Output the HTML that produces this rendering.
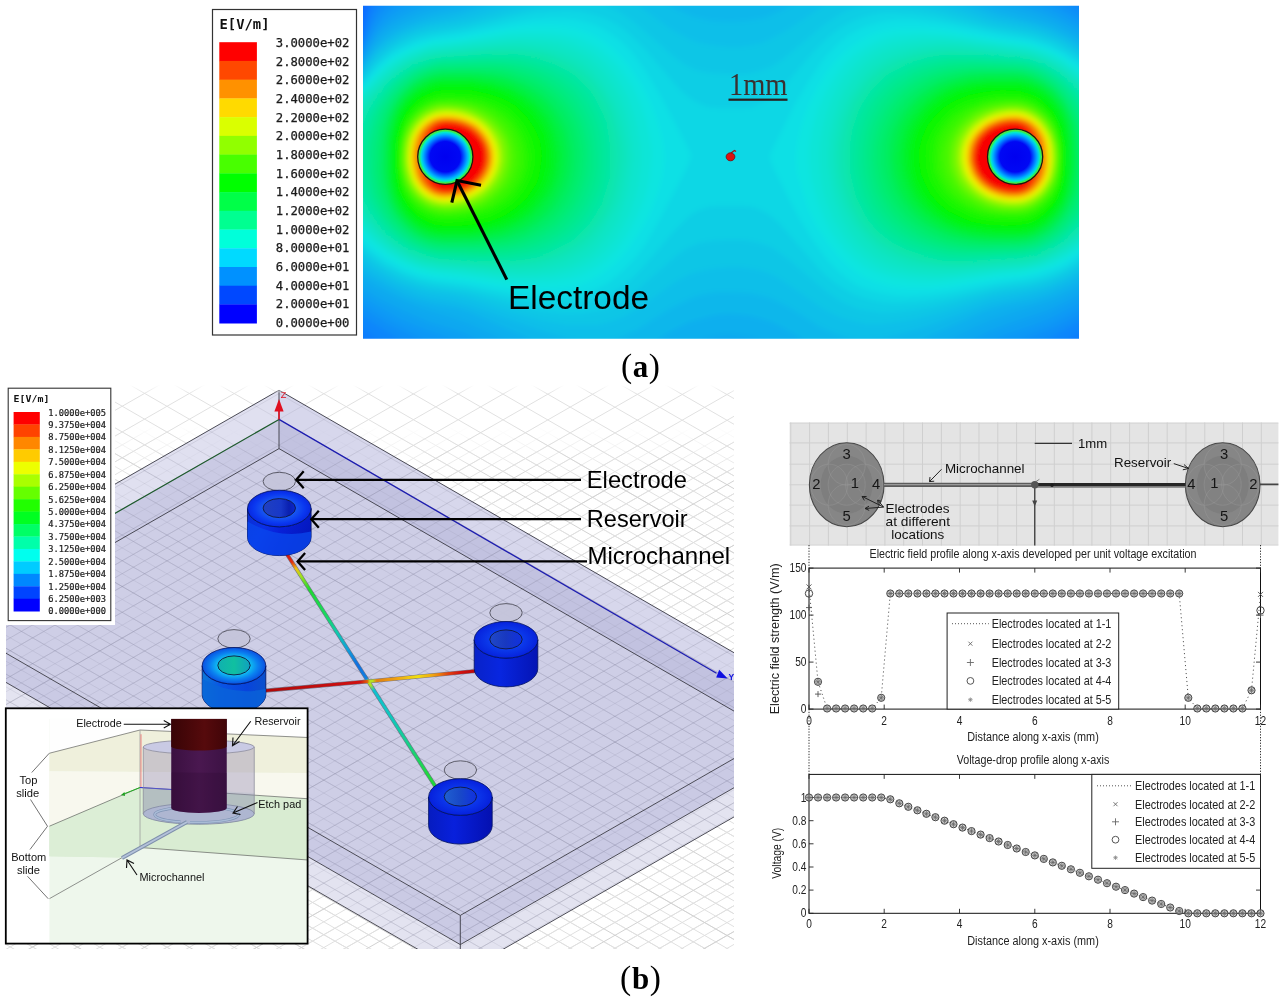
<!DOCTYPE html>
<html><head><meta charset="utf-8"><title>Figure</title>
<style>html,body{margin:0;padding:0;background:#fff}svg{display:block}</style></head>
<body>
<svg width="1285" height="1000" viewBox="0 0 1285 1000">
<defs>
<clipPath id="hclip"><rect x="363" y="5.8" width="716" height="333"/></clipPath>
<filter id="hblur" x="-5%" y="-5%" width="110%" height="110%"><feGaussianBlur stdDeviation="2.5"/></filter>
<radialGradient id="elec" cx="0.5" cy="0.5" r="0.5">
<stop offset="0" stop-color="#0000f0"/><stop offset="0.55" stop-color="#0008f4"/><stop offset="0.66" stop-color="#0050ff"/><stop offset="0.80" stop-color="#00b0ff"/><stop offset="0.88" stop-color="#00e8d0"/><stop offset="0.94" stop-color="#30f050"/><stop offset="1" stop-color="#90e020"/>
</radialGradient>

<linearGradient id="elecIn" x1="0" x2="1"><stop offset="0" stop-color="#3a1040"/><stop offset="0.5" stop-color="#4a1850"/><stop offset="1" stop-color="#3c1244"/></linearGradient>
<linearGradient id="elecTop" x1="0" x2="1"><stop offset="0" stop-color="#380406"/><stop offset="0.6" stop-color="#560a0c"/><stop offset="1" stop-color="#400508"/></linearGradient>

<clipPath id="b3clip"><rect x="6" y="385" width="728" height="564"/></clipPath>
<linearGradient id="finefade" x1="0" y1="425" x2="0" y2="480" gradientUnits="userSpaceOnUse"><stop offset="0" stop-color="#000"/><stop offset="1" stop-color="#fff"/></linearGradient>
<linearGradient id="gfade" x1="0" y1="385" x2="0" y2="394" gradientUnits="userSpaceOnUse"><stop offset="0" stop-color="#fff" stop-opacity="1"/><stop offset="1" stop-color="#fff" stop-opacity="0"/></linearGradient>
<linearGradient id="cylg1" x1="0" x2="1" y1="0" y2="0.35"><stop offset="0" stop-color="#0a2fd0"/><stop offset="0.35" stop-color="#0a30e8"/><stop offset="0.6" stop-color="#0820d8"/><stop offset="1" stop-color="#0418c0"/></linearGradient>
<linearGradient id="cylg2" x1="0" x2="1" y1="0" y2="0"><stop offset="0" stop-color="#0a78d8"/><stop offset="0.3" stop-color="#0a54e4"/><stop offset="0.7" stop-color="#0844dc"/><stop offset="1" stop-color="#0a50cc"/></linearGradient>
<linearGradient id="cylg3" x1="0" x2="1" y1="0" y2="0"><stop offset="0" stop-color="#0822c8"/><stop offset="0.4" stop-color="#0826e0"/><stop offset="1" stop-color="#0414b4"/></linearGradient>
<linearGradient id="cylg4" x1="0" x2="1" y1="0" y2="0"><stop offset="0" stop-color="#061cc0"/><stop offset="0.4" stop-color="#0820dc"/><stop offset="1" stop-color="#0410b0"/></linearGradient>
<radialGradient id="cylt1"><stop offset="0.5" stop-color="#1858f0"/><stop offset="0.8" stop-color="#0a38f0"/><stop offset="1" stop-color="#0828e0"/></radialGradient>
<radialGradient id="cylt2"><stop offset="0.5" stop-color="#10c0f0"/><stop offset="0.75" stop-color="#0a80f0"/><stop offset="1" stop-color="#0a50e0"/></radialGradient>
<radialGradient id="cylt3"><stop offset="0.5" stop-color="#0c3cec"/><stop offset="1" stop-color="#0622dc"/></radialGradient>
<radialGradient id="cylt4"><stop offset="0.5" stop-color="#0c38ec"/><stop offset="1" stop-color="#0620dc"/></radialGradient>
<linearGradient id="cylh1" x1="0" x2="1"><stop offset="0" stop-color="#2040c0"/><stop offset="0.55" stop-color="#1838c8"/><stop offset="0.8" stop-color="#0a20b0"/><stop offset="1" stop-color="#0a28d0"/></linearGradient>
<linearGradient id="cylh2" x1="0" x2="1"><stop offset="0" stop-color="#10b0b0"/><stop offset="0.5" stop-color="#10c0a0"/><stop offset="1" stop-color="#10a0c0"/></linearGradient>
<linearGradient id="cylh3" x1="0" x2="1"><stop offset="0" stop-color="#2048c8"/><stop offset="0.5" stop-color="#1838c0"/><stop offset="1" stop-color="#1030e0"/></linearGradient>
<linearGradient id="cylh4" x1="0" x2="1"><stop offset="0" stop-color="#2060d0"/><stop offset="0.5" stop-color="#1848c8"/><stop offset="1" stop-color="#1030e0"/></linearGradient>
<linearGradient id="chL" gradientUnits="userSpaceOnUse" x1="286" y1="553" x2="452" y2="812">
<stop offset="0" stop-color="#d01010"/><stop offset="0.035" stop-color="#e03010"/><stop offset="0.06" stop-color="#f0c010"/><stop offset="0.09" stop-color="#a0e020"/><stop offset="0.14" stop-color="#20d830"/><stop offset="0.24" stop-color="#18d860"/><stop offset="0.31" stop-color="#10c8b0"/><stop offset="0.37" stop-color="#10a0d8"/><stop offset="0.43" stop-color="#1070e0"/><stop offset="0.485" stop-color="#1080e0"/><stop offset="0.495" stop-color="#b0e020"/><stop offset="0.51" stop-color="#b0e020"/><stop offset="0.53" stop-color="#10c0d0"/><stop offset="0.65" stop-color="#10c8b8"/><stop offset="0.75" stop-color="#18d080"/><stop offset="0.85" stop-color="#20d840"/><stop offset="1" stop-color="#20d030"/></linearGradient>
<linearGradient id="chS" gradientUnits="userSpaceOnUse" x1="265" y1="0" x2="476" y2="0">
<stop offset="0" stop-color="#b00808"/><stop offset="0.45" stop-color="#d01010"/><stop offset="0.485" stop-color="#e06010"/><stop offset="0.497" stop-color="#b8e020"/><stop offset="0.51" stop-color="#b8e020"/><stop offset="0.53" stop-color="#e08010"/><stop offset="0.62" stop-color="#f0a010"/><stop offset="0.72" stop-color="#f0e010"/><stop offset="0.80" stop-color="#f0a010"/><stop offset="0.87" stop-color="#e04010"/><stop offset="0.93" stop-color="#d01010"/><stop offset="1" stop-color="#b80808"/></linearGradient>


<clipPath id="schclip"><rect x="789.6" y="422.5" width="488.8" height="123"/></clipPath>
<g id="mk"><circle r="3.6" fill="#b0b0b0" fill-opacity="0.55" stroke="#454545" stroke-width="1"/><path d="M-2.3 -2.3L2.3 2.3M-2.3 2.3L2.3 -2.3M-3 0H3M0 -3V3" stroke="#6a6a6a" stroke-width="0.8"/></g>

</defs>
<rect width="1285" height="1000" fill="#fff"/>
<rect x="212.5" y="9.5" width="144" height="325.5" fill="#fff" stroke="#333" stroke-width="1.2"/>
<text x="219.5" y="29" font-family="DejaVu Sans Mono, Liberation Mono, monospace" font-weight="bold" font-size="13.2" textLength="50" lengthAdjust="spacingAndGlyphs" fill="#111">E[V/m]</text>
<rect x="219.3" y="42.20" width="37.6" height="19.03" fill="#ff0000"/>
<rect x="219.3" y="60.93" width="37.6" height="19.03" fill="#ff4800"/>
<rect x="219.3" y="79.67" width="37.6" height="19.03" fill="#ff9100"/>
<rect x="219.3" y="98.40" width="37.6" height="19.03" fill="#ffda00"/>
<rect x="219.3" y="117.13" width="37.6" height="19.03" fill="#daff00"/>
<rect x="219.3" y="135.87" width="37.6" height="19.03" fill="#91ff00"/>
<rect x="219.3" y="154.60" width="37.6" height="19.03" fill="#48ff00"/>
<rect x="219.3" y="173.33" width="37.6" height="19.03" fill="#00ff00"/>
<rect x="219.3" y="192.07" width="37.6" height="19.03" fill="#00ff48"/>
<rect x="219.3" y="210.80" width="37.6" height="19.03" fill="#00ff91"/>
<rect x="219.3" y="229.53" width="37.6" height="19.03" fill="#00ffda"/>
<rect x="219.3" y="248.27" width="37.6" height="19.03" fill="#00daff"/>
<rect x="219.3" y="267.00" width="37.6" height="19.03" fill="#0091ff"/>
<rect x="219.3" y="285.73" width="37.6" height="19.03" fill="#0048ff"/>
<rect x="219.3" y="304.47" width="37.6" height="19.03" fill="#0000ff"/>
<text x="275.8" y="47.0" font-family="DejaVu Sans Mono, Liberation Mono, monospace" font-size="11.7" textLength="73.6" lengthAdjust="spacingAndGlyphs" fill="#1a1a1a" stroke="#1a1a1a" stroke-width="0.25">3.0000e+02</text>
<text x="275.8" y="65.7" font-family="DejaVu Sans Mono, Liberation Mono, monospace" font-size="11.7" textLength="73.6" lengthAdjust="spacingAndGlyphs" fill="#1a1a1a" stroke="#1a1a1a" stroke-width="0.25">2.8000e+02</text>
<text x="275.8" y="84.3" font-family="DejaVu Sans Mono, Liberation Mono, monospace" font-size="11.7" textLength="73.6" lengthAdjust="spacingAndGlyphs" fill="#1a1a1a" stroke="#1a1a1a" stroke-width="0.25">2.6000e+02</text>
<text x="275.8" y="103.0" font-family="DejaVu Sans Mono, Liberation Mono, monospace" font-size="11.7" textLength="73.6" lengthAdjust="spacingAndGlyphs" fill="#1a1a1a" stroke="#1a1a1a" stroke-width="0.25">2.4000e+02</text>
<text x="275.8" y="121.7" font-family="DejaVu Sans Mono, Liberation Mono, monospace" font-size="11.7" textLength="73.6" lengthAdjust="spacingAndGlyphs" fill="#1a1a1a" stroke="#1a1a1a" stroke-width="0.25">2.2000e+02</text>
<text x="275.8" y="140.3" font-family="DejaVu Sans Mono, Liberation Mono, monospace" font-size="11.7" textLength="73.6" lengthAdjust="spacingAndGlyphs" fill="#1a1a1a" stroke="#1a1a1a" stroke-width="0.25">2.0000e+02</text>
<text x="275.8" y="159.0" font-family="DejaVu Sans Mono, Liberation Mono, monospace" font-size="11.7" textLength="73.6" lengthAdjust="spacingAndGlyphs" fill="#1a1a1a" stroke="#1a1a1a" stroke-width="0.25">1.8000e+02</text>
<text x="275.8" y="177.7" font-family="DejaVu Sans Mono, Liberation Mono, monospace" font-size="11.7" textLength="73.6" lengthAdjust="spacingAndGlyphs" fill="#1a1a1a" stroke="#1a1a1a" stroke-width="0.25">1.6000e+02</text>
<text x="275.8" y="196.4" font-family="DejaVu Sans Mono, Liberation Mono, monospace" font-size="11.7" textLength="73.6" lengthAdjust="spacingAndGlyphs" fill="#1a1a1a" stroke="#1a1a1a" stroke-width="0.25">1.4000e+02</text>
<text x="275.8" y="215.0" font-family="DejaVu Sans Mono, Liberation Mono, monospace" font-size="11.7" textLength="73.6" lengthAdjust="spacingAndGlyphs" fill="#1a1a1a" stroke="#1a1a1a" stroke-width="0.25">1.2000e+02</text>
<text x="275.8" y="233.7" font-family="DejaVu Sans Mono, Liberation Mono, monospace" font-size="11.7" textLength="73.6" lengthAdjust="spacingAndGlyphs" fill="#1a1a1a" stroke="#1a1a1a" stroke-width="0.25">1.0000e+02</text>
<text x="275.8" y="252.4" font-family="DejaVu Sans Mono, Liberation Mono, monospace" font-size="11.7" textLength="73.6" lengthAdjust="spacingAndGlyphs" fill="#1a1a1a" stroke="#1a1a1a" stroke-width="0.25">8.0000e+01</text>
<text x="275.8" y="271.0" font-family="DejaVu Sans Mono, Liberation Mono, monospace" font-size="11.7" textLength="73.6" lengthAdjust="spacingAndGlyphs" fill="#1a1a1a" stroke="#1a1a1a" stroke-width="0.25">6.0000e+01</text>
<text x="275.8" y="289.7" font-family="DejaVu Sans Mono, Liberation Mono, monospace" font-size="11.7" textLength="73.6" lengthAdjust="spacingAndGlyphs" fill="#1a1a1a" stroke="#1a1a1a" stroke-width="0.25">4.0000e+01</text>
<text x="275.8" y="308.4" font-family="DejaVu Sans Mono, Liberation Mono, monospace" font-size="11.7" textLength="73.6" lengthAdjust="spacingAndGlyphs" fill="#1a1a1a" stroke="#1a1a1a" stroke-width="0.25">2.0000e+01</text>
<text x="275.8" y="327.1" font-family="DejaVu Sans Mono, Liberation Mono, monospace" font-size="11.7" textLength="73.6" lengthAdjust="spacingAndGlyphs" fill="#1a1a1a" stroke="#1a1a1a" stroke-width="0.25">0.0000e+00</text>
<g clip-path="url(#hclip)"><g filter="url(#hblur)">
<rect x="351" y="-6" width="740" height="357" fill="#086bff"/>
<path fill="#0875ff" d="M1086,348 359,348 354,344 354,61 361,36 366,9 370,-3 1089,-3 1089,347 1088,348 1086,348Z"/>
<path fill="#087efd" d="M1071,348 375,348 354,333 354,64 363,36 368,12 372,2 375,-3 1087,-3 1089,-1 1089,337 1071,348Z"/>
<path fill="#0886fb" d="M1053,348 392,348 354,323 354,67 365,36 369,20 373,9 381,-3 1074,-3 1089,7 1089,326 1053,348Z"/>
<path fill="#088ff8" d="M1029,348 413,348 354,311 354,70 372,21 375,15 381,6 391,-3 1060,-3 1089,15 1089,316 1032,348 1029,348Z"/>
<path fill="#0898f6" d="M1002,348 438,348 432,345 387,322 354,301 354,72 372,30 378,20 384,12 393,4 404,-3 1044,-3 1065,9 1089,23 1089,307 1068,319 1050,328 1023,339 1005,348 1002,348Z"/>
<path fill="#08a0f3" d="M978,348 469,348 452,339 426,330 399,319 375,305 354,292 354,75 369,43 378,28 387,18 402,7 421,-3 1024,-3 1059,13 1077,23 1089,31 1089,299 1071,308 1050,319 1032,326 1002,336 990,342 980,348 978,348Z"/>
<path fill="#08a8f0" d="M957,348 493,348 477,339 462,332 429,322 408,313 381,300 354,283 354,77 372,43 378,34 385,27 393,21 405,14 429,3 445,-3 999,-3 1023,6 1038,11 1053,17 1071,26 1089,37 1089,290 1068,301 1047,311 1029,317 1005,325 992,330 975,338 958,348 957,348Z"/>
<path fill="#08afee" d="M930,348 778,348 765,342 753,338 741,336 729,335 717,336 708,338 696,342 683,348 518,348 496,336 470,324 456,319 423,309 396,298 375,287 354,274 354,79 372,48 381,37 390,29 402,22 417,15 432,10 450,5 471,-3 978,-3 991,3 999,6 1032,15 1056,24 1074,34 1089,43 1089,282 1073,291 1056,299 1041,304 1008,314 993,319 972,328 932,348 930,348Z"/>
<path fill="#08b7eb" d="M900,348 818,348 783,328 771,322 762,319 750,316 741,315 729,314 717,315 708,317 690,322 675,329 644,348 550,348 531,340 486,320 468,312 458,309 435,305 420,301 405,296 393,290 373,279 354,266 354,82 369,57 375,49 384,40 396,31 408,25 423,19 435,15 462,9 477,4 492,-3 706,-3 717,-1 729,0 741,-1 754,-3 960,-3 981,6 996,12 1038,23 1053,28 1065,34 1077,41 1089,49 1089,276 1071,286 1053,294 1032,301 1004,306 984,312 924,339 906,346 900,348Z"/>
<path fill="#08bfe9" d="M867,339 858,339 849,338 834,333 819,326 789,307 777,301 768,297 750,293 729,292 717,292 705,294 696,296 687,300 669,309 636,330 627,334 618,338 609,340 600,341 582,341 567,338 543,331 483,310 468,305 456,302 432,298 420,295 405,289 393,284 372,272 354,258 354,84 369,61 378,50 387,42 399,34 408,30 420,25 432,22 451,18 465,14 512,-3 656,-3 675,9 693,17 702,19 711,21 729,22 747,21 765,18 783,10 806,-3 940,-3 996,18 1029,24 1047,30 1068,40 1089,54 1089,269 1068,281 1047,290 1029,295 1005,300 990,303 924,327 900,334 882,338 867,339Z"/>
<path fill="#08c6e6" d="M879,324 867,324 858,322 849,320 840,317 831,313 822,308 792,287 777,277 768,273 759,270 741,267 729,267 717,268 705,270 693,273 684,277 675,282 642,306 627,315 618,319 609,322 597,325 588,325 567,325 540,320 519,314 465,297 450,294 432,292 420,289 399,282 387,275 375,268 363,259 354,251 354,86 358,81 372,61 378,54 390,44 405,35 417,30 429,26 459,21 473,18 538,-3 623,-3 639,6 672,30 687,38 696,42 705,44 717,46 729,47 741,47 753,45 762,43 771,39 789,29 823,6 834,0 842,-3 911,-3 930,2 990,21 1005,24 1026,28 1041,32 1053,37 1065,42 1077,50 1089,58 1089,264 1077,272 1068,277 1053,284 1041,288 1029,290 1005,294 990,297 942,312 915,319 897,322 879,324Z"/>
<path fill="#08cee5" d="M897,312 882,313 870,311 858,309 846,304 837,299 828,293 789,260 774,249 768,246 759,243 744,240 726,240 711,241 699,243 690,247 684,250 675,257 636,291 624,300 615,305 606,309 597,311 585,313 576,314 564,314 540,311 522,307 468,293 426,287 405,280 391,273 378,265 366,256 354,244 354,88 358,84 375,62 384,53 399,42 414,35 429,31 468,24 534,7 555,3 573,1 585,1 597,3 609,7 618,11 633,21 672,55 684,64 696,70 711,73 729,74 747,74 759,71 768,68 774,65 783,59 825,24 837,16 846,11 858,7 867,5 879,3 897,4 918,7 948,14 996,27 1032,33 1047,38 1059,43 1071,50 1083,58 1089,63 1089,259 1077,267 1065,274 1053,279 1038,284 1026,287 996,291 933,307 915,310 897,312Z"/>
<path fill="#08d7e5" d="M576,303 555,304 531,302 510,298 465,288 435,284 420,281 402,274 384,265 367,252 354,239 354,91 361,84 375,66 387,55 396,48 408,42 420,37 432,34 465,29 510,18 534,13 561,11 573,11 582,12 594,15 606,19 616,24 627,32 644,48 672,81 681,91 690,98 696,102 705,106 714,108 747,108 753,107 762,103 768,100 774,96 786,84 809,57 820,45 831,35 842,27 853,21 867,16 882,13 897,13 915,14 936,17 993,30 1023,35 1035,38 1050,43 1062,49 1077,58 1089,67 1089,254 1074,265 1059,273 1047,278 1032,282 996,287 951,297 933,300 918,302 903,303 888,303 876,301 864,298 853,294 843,288 834,282 823,273 815,264 780,224 771,216 765,212 756,208 747,206 714,206 708,207 699,210 693,213 687,218 675,230 643,267 631,279 621,287 612,292 600,298 588,301 576,303Z"/>
<path fill="#08e0e5" d="M579,294 558,296 546,297 531,296 507,292 465,284 438,281 423,278 405,272 396,267 385,261 369,249 355,234 354,233 354,93 361,87 375,70 384,61 393,54 402,49 417,42 429,39 438,37 465,33 519,22 534,20 549,19 564,19 576,20 588,23 597,26 606,31 615,37 625,45 633,54 646,72 662,99 689,150 691,156 690,159 688,165 682,177 658,222 646,243 635,258 621,272 609,282 594,290 579,294ZM933,294 906,296 894,295 882,293 870,290 861,287 852,282 843,275 834,267 826,258 811,237 800,219 787,195 775,171 770,159 770,156 772,150 793,108 809,81 823,60 837,45 849,35 864,27 879,23 888,21 900,20 912,20 927,22 951,25 999,35 1029,40 1041,44 1050,47 1062,53 1077,62 1089,72 1089,249 1077,258 1065,266 1053,271 1038,276 1023,279 996,283 954,291 933,294Z"/>
<path fill="#08e5e0" d="M561,288 540,289 516,288 462,279 435,276 420,273 402,266 384,256 368,243 355,228 354,227 354,95 363,88 380,69 390,60 399,54 411,48 420,45 432,41 459,38 513,28 534,26 552,26 564,27 576,29 585,32 595,36 603,41 612,48 621,57 631,69 641,84 650,102 657,120 662,138 664,153 664,162 662,177 658,192 650,213 640,231 628,249 615,263 603,273 591,280 576,286 561,288ZM930,288 909,288 891,286 876,282 864,277 858,273 849,266 838,255 828,243 818,228 809,210 803,192 797,171 796,156 798,141 802,123 809,105 818,87 825,75 834,63 843,54 852,46 863,39 873,34 882,31 894,29 906,28 921,28 939,29 954,31 997,39 1020,42 1032,44 1047,49 1062,56 1077,66 1089,76 1089,245 1077,254 1062,263 1050,268 1038,272 1023,276 999,278 951,286 930,288Z"/>
<path fill="#08e5d7" d="M552,282 531,283 510,282 468,276 432,272 417,268 402,262 387,253 371,240 357,224 354,220 354,101 357,96 364,90 378,74 384,68 393,61 402,56 411,51 420,48 432,44 462,41 510,33 528,32 543,32 555,33 567,35 579,38 588,42 597,47 606,54 615,62 623,72 633,87 640,102 646,120 650,138 652,153 651,165 649,183 644,201 636,219 628,234 620,246 609,258 597,267 582,275 569,279 552,282ZM942,282 924,283 906,281 891,278 876,273 864,267 852,258 841,246 832,234 824,219 817,201 811,180 809,162 809,147 812,129 817,111 825,93 832,81 838,72 846,62 855,54 864,48 875,42 885,38 897,35 909,34 921,33 936,34 951,35 999,42 1026,45 1041,49 1053,54 1062,59 1072,66 1080,72 1089,81 1089,240 1077,250 1065,258 1053,264 1038,269 1023,272 1002,274 960,280 942,282Z"/>
<path fill="#08e5ce" d="M552,276 531,278 510,278 462,272 438,270 423,267 406,261 390,252 375,240 362,225 354,213 354,107 361,96 381,75 391,66 400,60 411,54 420,51 432,47 504,38 519,37 534,37 546,38 558,39 570,42 579,46 590,51 598,57 606,64 613,72 621,84 629,99 635,117 639,135 641,150 641,165 639,183 635,198 630,213 622,228 615,240 604,252 593,261 582,267 570,272 552,276ZM960,276 936,278 912,276 891,272 882,269 873,264 864,258 857,252 851,246 844,237 833,219 825,198 822,186 820,174 819,162 819,153 820,141 823,126 826,114 830,102 836,90 841,81 848,72 856,63 864,56 872,51 882,46 891,43 913,39 924,38 939,38 963,40 1029,49 1047,55 1062,62 1075,72 1089,85 1089,236 1080,244 1068,253 1056,259 1041,265 1023,269 999,271 960,276Z"/>
<path fill="#08e5c5" d="M537,273 519,274 498,273 462,269 438,267 420,264 411,260 402,256 387,246 373,234 361,219 354,206 354,115 359,105 365,96 384,76 399,64 408,59 417,55 426,51 438,49 504,42 519,41 534,42 546,43 558,45 570,49 579,53 588,58 597,66 603,72 610,81 619,96 625,111 629,126 632,144 633,159 631,174 628,192 623,207 617,222 609,234 600,245 591,254 580,261 567,267 552,271 537,273ZM954,273 936,273 918,272 903,269 888,264 876,258 867,251 858,243 849,231 841,216 835,201 832,189 828,168 828,153 829,138 833,120 839,102 845,90 851,81 858,72 867,63 876,57 885,52 894,49 906,46 918,44 930,43 945,42 960,43 1023,50 1035,53 1047,58 1059,64 1071,72 1081,81 1089,90 1089,231 1080,240 1068,249 1056,256 1041,263 1023,267 954,273Z"/>
<path fill="#08e5bc" d="M540,268 522,270 501,270 441,265 426,262 417,260 408,256 393,247 381,237 368,222 360,210 354,197 354,124 361,108 369,96 384,80 396,69 405,63 414,59 423,55 435,52 495,46 513,45 528,46 543,48 555,51 567,55 576,59 585,65 591,70 598,78 605,87 612,99 619,114 623,129 626,144 627,159 625,174 622,189 619,201 613,213 604,228 597,238 588,247 579,253 567,260 555,264 540,268ZM984,267 954,269 930,268 909,265 891,258 885,255 876,249 866,240 854,225 844,207 841,198 837,186 835,174 834,162 834,153 835,141 839,120 844,108 848,99 854,90 861,80 868,72 875,66 882,62 891,57 903,53 915,49 930,47 942,46 969,47 1026,54 1035,56 1044,59 1059,67 1074,78 1083,87 1089,94 1089,226 1079,237 1068,246 1056,253 1044,259 1035,262 1023,264 984,267Z"/>
<path fill="#07e5b2" d="M531,264 513,266 492,266 441,262 432,261 423,259 408,253 392,243 379,231 367,216 359,201 354,186 354,136 357,126 362,114 367,105 373,96 387,81 402,68 411,63 420,59 429,56 438,54 498,49 513,49 528,50 540,52 552,55 564,60 573,64 582,70 591,78 597,85 603,93 610,105 614,117 618,132 621,147 621,162 619,177 616,192 612,204 606,216 600,225 591,236 582,244 573,250 561,256 546,261 531,264ZM987,264 960,266 939,265 918,262 900,256 885,248 877,243 871,237 864,230 858,222 850,207 846,198 843,186 840,174 839,162 839,153 840,141 843,129 845,120 852,102 858,93 864,84 870,78 879,70 888,64 897,60 909,56 921,53 933,51 948,50 972,51 1026,56 1041,61 1050,65 1059,70 1068,77 1076,84 1089,100 1089,221 1081,231 1071,240 1059,248 1047,255 1038,258 1026,261 987,264Z"/>
<path fill="#07e6aa" d="M528,261 510,263 492,263 441,260 426,257 411,251 396,242 383,231 371,216 366,207 362,198 359,189 356,177 355,159 356,147 357,138 361,126 364,117 369,108 374,99 387,84 402,71 408,67 420,62 435,57 492,52 507,52 522,53 534,54 546,57 558,62 567,66 576,72 584,78 591,85 597,93 604,105 609,117 613,132 615,147 616,159 614,174 611,189 607,201 602,213 596,222 588,232 579,240 567,248 555,254 543,258 528,261ZM987,261 960,263 939,262 921,259 903,253 888,245 881,240 874,234 869,228 862,219 854,204 851,195 847,183 845,162 845,153 846,141 848,129 850,120 858,102 864,93 870,85 877,78 885,72 901,63 912,59 924,56 936,54 951,53 975,54 1020,58 1029,59 1038,62 1047,66 1062,75 1075,87 1083,96 1089,105 1089,216 1079,228 1070,237 1059,245 1047,252 1038,255 1026,258 987,261Z"/>
<path fill="#06e7a1" d="M525,258 507,260 486,260 438,257 423,253 408,247 396,239 384,228 373,213 368,204 364,195 362,186 359,174 359,156 360,144 362,135 364,126 369,114 374,105 380,96 393,81 401,75 408,70 423,63 432,60 441,59 495,55 510,55 525,57 537,59 546,62 557,66 567,71 576,77 582,83 589,90 595,99 601,111 606,123 608,135 610,150 610,162 609,177 605,192 601,204 594,216 588,225 579,234 572,240 561,246 549,252 537,256 525,258ZM990,258 963,260 942,259 924,255 906,249 891,241 878,231 868,219 860,204 856,195 853,183 851,174 850,162 850,153 851,141 853,129 856,120 859,111 864,102 870,93 875,87 881,81 888,75 897,70 905,66 915,62 927,59 939,57 954,56 978,56 1017,59 1029,61 1038,64 1047,68 1054,72 1062,78 1069,84 1077,93 1084,102 1089,112 1089,210 1085,216 1075,228 1068,235 1056,244 1044,250 1035,254 1023,256 990,258Z"/>
<path fill="#06e899" d="M522,255 507,257 486,257 441,255 426,252 411,246 397,237 385,225 377,213 370,201 368,195 363,177 362,159 365,138 368,126 371,117 376,108 381,99 385,93 393,84 400,78 408,72 423,65 432,62 441,60 492,58 507,58 522,59 534,62 543,65 554,69 564,75 573,81 579,87 585,93 591,102 597,114 601,126 604,138 605,150 605,162 604,177 601,189 596,201 590,213 584,222 576,230 568,237 555,245 546,249 534,253 522,255ZM1008,255 975,257 954,257 936,254 921,251 906,245 891,236 879,225 870,213 865,204 861,195 857,177 855,168 855,156 856,144 857,135 862,117 866,108 872,99 882,87 888,81 897,75 908,69 918,65 930,62 945,59 957,59 972,59 1023,62 1032,64 1041,67 1056,76 1063,81 1071,89 1076,96 1082,105 1089,118 1089,203 1087,207 1079,219 1072,228 1062,237 1053,244 1042,249 1032,252 1020,254 1008,255Z"/>
<path fill="#06e990" d="M519,252 501,255 483,255 441,253 426,250 414,245 401,237 388,225 380,213 375,204 371,195 367,177 366,165 366,156 367,144 369,135 374,117 378,108 384,99 390,91 396,84 403,78 411,73 418,69 426,66 441,62 492,60 507,61 522,63 534,66 543,69 552,73 561,78 569,84 576,90 582,98 587,105 593,117 597,129 599,141 600,153 600,165 599,177 596,189 591,201 586,210 580,219 573,227 564,234 555,240 543,246 531,250 519,252ZM1023,252 984,254 966,254 948,253 933,250 915,244 901,237 889,228 879,217 874,210 869,201 866,192 863,183 861,174 860,162 861,144 865,126 868,117 872,108 876,101 882,94 894,82 906,75 915,70 928,66 942,63 954,61 969,61 1017,63 1032,66 1047,72 1056,78 1062,83 1074,96 1083,111 1089,126 1089,195 1084,207 1079,216 1072,225 1063,234 1053,241 1044,246 1035,250 1023,252Z"/>
<path fill="#05ea87" d="M498,252 480,253 441,251 429,249 420,246 414,243 405,238 394,228 384,216 376,201 373,192 371,183 370,174 369,162 369,150 370,141 375,123 378,114 383,105 389,96 394,90 399,84 408,77 416,72 423,69 432,66 441,64 486,62 510,64 522,66 531,68 541,72 549,76 558,81 565,87 573,94 579,102 584,111 588,119 592,132 594,144 595,156 595,168 593,180 589,192 585,202 579,212 573,220 565,228 557,234 546,240 534,245 522,249 510,251 498,252ZM987,252 963,252 945,250 927,245 912,239 900,231 893,225 887,219 882,213 876,204 870,189 866,171 865,159 865,150 868,132 871,123 875,114 879,106 884,99 889,93 896,87 909,78 918,73 927,70 936,67 948,65 972,63 1017,65 1026,66 1035,69 1044,73 1052,78 1060,84 1066,90 1073,99 1078,108 1083,117 1086,126 1089,137 1089,185 1086,195 1082,204 1078,213 1071,222 1063,231 1056,237 1047,242 1038,247 1029,249 1020,251 987,252Z"/>
<path fill="#05eb7e" d="M501,249 480,250 444,250 432,248 423,245 411,239 399,230 389,219 381,204 377,195 375,186 372,168 373,147 375,135 377,126 380,117 384,108 389,99 394,93 406,81 414,75 420,72 429,69 438,66 474,65 501,65 513,67 525,70 534,73 546,79 555,85 561,89 568,96 575,105 583,120 586,129 589,141 590,153 590,165 589,174 586,186 581,198 576,207 570,216 564,222 555,230 546,235 537,240 525,244 513,247 501,249ZM1017,249 987,250 969,250 951,248 936,244 921,239 906,230 893,219 884,207 876,192 874,186 871,174 870,156 872,138 874,129 877,120 886,105 896,93 909,83 915,79 927,74 939,70 954,67 966,66 981,65 1020,67 1035,71 1041,73 1050,79 1057,84 1063,90 1072,102 1077,111 1082,123 1085,135 1088,150 1088,162 1088,174 1086,186 1082,198 1077,210 1071,219 1063,228 1056,234 1047,240 1038,245 1029,247 1017,249Z"/>
<path fill="#05ec75" d="M504,246 480,248 447,248 435,247 426,244 414,239 402,230 392,219 385,207 381,198 378,189 375,171 376,150 379,129 385,111 394,96 399,90 408,82 420,74 429,70 438,68 468,67 495,67 507,69 519,72 537,78 547,84 555,90 562,96 567,102 573,110 577,117 581,126 584,138 586,147 586,159 585,171 583,180 579,192 575,201 569,210 561,219 555,225 546,231 537,236 528,240 516,244 504,246ZM1026,246 1014,247 975,248 957,246 942,243 927,238 914,231 902,222 891,210 882,195 877,180 874,162 875,144 877,135 880,126 887,111 896,99 909,87 919,81 930,76 942,72 954,70 978,68 1017,69 1029,71 1038,74 1044,77 1057,87 1067,99 1073,108 1078,120 1082,132 1084,144 1085,156 1085,168 1084,180 1081,192 1077,204 1072,213 1066,222 1060,228 1053,234 1044,240 1035,244 1026,246Z"/>
<path fill="#04ed6c" d="M480,246 438,245 426,242 417,238 405,230 395,219 388,207 382,192 380,183 379,171 379,150 382,129 388,111 394,99 405,87 417,78 423,75 432,71 447,69 471,69 489,69 510,72 529,78 537,82 545,87 553,93 559,99 565,105 571,114 575,123 578,132 580,141 582,153 581,165 580,174 577,186 573,195 568,204 561,213 555,220 546,227 537,232 527,237 519,240 507,243 495,245 480,246ZM1029,244 1017,246 984,246 966,245 948,242 933,237 918,229 906,220 897,210 891,202 887,195 882,180 879,165 879,156 879,147 881,138 883,129 890,114 899,102 905,96 912,90 921,84 930,79 942,75 954,72 966,70 978,70 1014,70 1026,72 1035,74 1041,77 1053,85 1063,96 1069,105 1073,114 1077,123 1080,138 1082,150 1082,165 1081,177 1079,189 1076,198 1073,207 1067,216 1060,225 1054,231 1047,236 1038,241 1029,244Z"/>
<path fill="#04ed63" d="M489,243 471,244 444,244 435,243 426,241 414,235 405,227 395,216 389,204 385,192 382,180 381,171 382,144 385,123 388,114 393,105 401,93 411,83 417,79 426,75 432,73 441,71 477,71 501,73 513,76 522,79 531,83 539,87 547,93 554,99 559,105 566,114 573,129 575,138 577,150 577,159 576,171 574,180 571,189 567,198 561,207 553,216 546,222 538,228 531,232 522,236 513,239 501,242 489,243ZM1023,243 1002,244 978,244 960,242 945,238 930,232 918,225 907,216 897,204 889,189 885,174 883,165 883,156 884,141 889,126 897,111 907,99 918,90 927,85 936,80 945,77 957,74 969,72 984,71 1017,72 1026,73 1032,75 1044,81 1050,85 1056,90 1064,99 1067,105 1072,114 1076,126 1078,141 1079,153 1079,168 1079,177 1076,192 1073,201 1067,213 1063,219 1056,227 1050,232 1041,237 1032,241 1023,243Z"/>
<path fill="#03ee59" d="M495,240 474,242 447,243 435,241 426,239 414,233 405,225 395,213 389,201 386,189 383,165 384,144 385,132 387,123 393,108 400,96 405,91 411,85 423,78 432,75 441,73 465,72 492,74 504,76 513,79 528,85 537,90 545,96 556,108 561,115 566,123 569,132 571,141 573,153 573,162 572,171 570,180 567,189 562,198 556,207 551,213 544,219 536,225 528,230 519,234 507,238 495,240ZM1029,240 1017,242 987,242 966,240 951,237 936,231 924,225 913,216 902,204 895,192 890,177 888,162 888,153 888,144 892,129 900,114 910,102 920,93 929,87 939,82 957,77 969,74 981,73 1014,73 1023,74 1029,76 1041,81 1053,89 1062,99 1067,108 1071,116 1074,126 1076,135 1077,162 1076,177 1075,189 1072,198 1069,207 1063,216 1058,222 1052,228 1044,234 1038,237 1029,240Z"/>
<path fill="#03ef50" d="M480,240 462,241 441,241 429,238 420,235 410,228 401,219 393,207 389,195 386,186 385,177 385,156 386,135 388,126 390,117 394,108 398,102 402,96 408,90 414,85 420,81 432,76 438,75 447,74 480,74 501,78 519,83 534,92 547,102 556,114 561,123 565,132 567,141 569,150 569,159 568,171 566,180 562,189 559,195 554,204 546,213 537,221 522,230 510,234 501,237 480,240ZM1023,240 1005,241 981,240 966,238 951,234 936,228 924,221 915,213 905,201 898,189 893,174 892,165 891,156 893,141 895,132 899,123 907,111 917,99 930,90 939,85 948,81 957,79 969,76 993,75 1020,75 1032,78 1044,84 1055,93 1064,105 1069,114 1072,123 1074,132 1075,144 1076,159 1075,174 1074,183 1072,195 1068,204 1065,211 1059,219 1053,225 1046,231 1038,235 1032,238 1023,240Z"/>
<path fill="#02f143" d="M489,237 471,239 444,239 435,238 426,236 414,229 406,222 398,213 392,201 388,186 386,168 387,141 390,123 396,108 404,96 414,87 426,80 432,78 441,76 471,76 494,78 504,80 513,83 528,91 536,96 543,102 553,114 556,120 561,129 564,138 565,147 566,156 565,165 564,174 561,183 554,198 547,207 542,213 528,224 520,228 510,232 501,235 489,237ZM1029,237 1017,239 990,239 972,237 957,234 942,229 930,222 919,213 908,201 901,189 896,174 894,159 896,144 900,129 906,117 915,105 927,95 936,89 945,85 956,81 966,79 987,76 1017,77 1029,79 1041,84 1047,88 1053,93 1061,102 1065,109 1068,117 1071,126 1073,138 1074,153 1074,168 1073,180 1072,189 1069,198 1065,207 1062,213 1056,220 1050,226 1044,230 1037,234 1029,237Z"/>
<path fill="#01f22f" d="M486,234 468,236 444,236 435,235 426,232 417,228 407,219 400,210 394,198 390,183 389,165 389,141 393,123 397,111 405,99 411,93 417,88 429,82 435,80 444,79 471,79 492,82 510,87 525,95 538,105 548,117 552,124 555,132 559,147 560,156 559,165 558,174 555,183 551,192 547,198 537,210 530,216 521,222 513,226 504,230 486,234ZM1026,235 1014,236 990,236 972,234 957,230 945,225 933,218 923,210 913,198 907,186 902,171 901,156 902,144 906,129 913,117 923,105 934,96 942,91 951,87 969,82 990,80 1017,80 1029,82 1041,87 1050,94 1059,105 1063,111 1067,120 1069,129 1071,141 1072,156 1072,171 1070,183 1068,192 1065,201 1062,207 1058,213 1053,219 1047,225 1041,229 1035,232 1026,235Z"/>
<path fill="#01f41c" d="M480,231 465,233 444,233 435,232 426,229 417,224 408,216 401,207 396,195 392,180 391,159 392,138 394,129 396,121 402,108 406,102 411,97 420,90 432,84 444,82 471,82 489,85 507,90 522,98 534,108 543,120 546,126 550,135 553,150 554,159 553,168 549,183 544,192 540,198 530,210 516,220 507,224 498,227 480,231ZM1026,232 1014,233 990,232 975,230 960,227 948,222 936,214 927,206 918,195 912,183 908,168 907,153 909,141 913,129 920,117 927,108 939,98 954,90 972,85 993,83 1017,83 1029,85 1041,91 1050,98 1058,108 1062,116 1065,123 1067,132 1068,141 1069,168 1068,180 1067,189 1064,198 1061,204 1057,210 1052,216 1047,221 1041,225 1035,229 1026,232Z"/>
<path fill="#00f609" d="M480,228 465,230 444,230 435,229 426,226 417,220 409,213 403,204 398,195 395,180 394,162 395,138 398,123 402,113 405,108 411,101 420,93 432,88 444,85 471,86 480,87 489,88 503,93 510,96 519,102 530,111 539,123 545,135 548,150 548,165 544,180 540,189 536,195 526,207 513,217 498,223 480,228ZM1026,228 1014,230 993,229 975,227 963,224 951,219 939,211 930,203 922,192 916,180 913,168 912,153 914,141 918,129 926,117 934,108 946,99 960,92 969,90 981,87 999,86 1017,86 1029,89 1038,93 1047,99 1052,105 1056,110 1062,123 1064,132 1066,141 1066,156 1066,171 1066,180 1064,189 1061,198 1058,204 1050,214 1041,222 1035,225 1026,228Z"/>
<path fill="#09f700" d="M471,225 459,226 444,226 435,225 426,221 417,216 408,207 403,198 399,189 397,174 396,153 397,138 401,123 407,111 414,103 423,96 435,91 447,90 471,90 489,94 504,99 516,106 527,117 535,129 540,141 542,156 540,171 538,180 535,186 527,198 516,208 504,216 489,222 471,225ZM1020,225 1005,226 987,225 972,222 960,217 948,211 939,204 931,195 926,186 921,174 919,162 919,150 922,138 927,126 934,117 943,108 954,101 969,95 984,92 1002,90 1020,91 1032,95 1041,100 1050,108 1056,117 1061,129 1064,147 1064,171 1061,189 1056,201 1052,207 1046,213 1041,217 1035,221 1029,223 1020,225Z"/>
<path fill="#1df700" d="M474,219 459,221 444,221 435,220 429,218 420,213 413,207 406,198 402,188 399,174 398,159 399,144 402,128 407,117 414,108 423,101 432,97 444,94 465,95 480,97 495,102 507,108 517,117 524,126 530,138 533,150 534,156 533,165 530,177 524,189 516,199 510,204 504,208 489,216 474,219ZM1026,220 1017,221 999,221 984,219 972,216 960,210 951,205 943,198 936,189 931,180 928,168 927,156 928,144 933,132 939,123 947,114 955,108 966,102 981,98 999,95 1017,95 1029,98 1038,102 1047,110 1053,117 1056,122 1059,130 1062,144 1062,165 1060,183 1056,195 1052,201 1047,207 1038,214 1032,218 1026,220Z"/>
<path fill="#31f700" d="M462,216 447,217 438,216 429,213 423,210 417,206 410,198 405,189 402,180 400,168 400,153 401,141 404,129 408,120 417,110 426,104 435,100 447,99 468,100 483,103 494,108 504,114 513,123 519,132 524,144 526,156 525,168 521,180 517,186 513,192 504,201 492,208 477,213 462,216ZM1020,216 1008,216 993,215 981,213 969,208 960,203 951,196 945,189 940,180 936,171 935,159 936,147 938,138 943,129 950,120 957,114 966,109 981,103 993,100 1011,99 1023,100 1032,103 1041,109 1049,117 1055,126 1057,132 1060,141 1061,156 1060,174 1059,180 1056,189 1050,199 1041,208 1032,213 1026,215 1020,216Z"/>
<path fill="#44f700" d="M453,213 441,213 432,211 426,208 417,202 413,198 407,189 404,180 401,168 401,156 402,144 405,132 409,123 416,114 423,108 432,104 441,102 453,101 468,103 483,108 494,114 505,123 511,132 515,141 518,153 518,165 514,177 509,186 501,195 492,202 480,208 468,211 453,213ZM1017,213 1002,213 990,211 978,207 967,201 959,195 951,186 946,177 943,168 942,156 943,147 948,135 954,126 963,117 972,111 984,106 993,104 1005,102 1017,102 1026,103 1035,107 1044,114 1049,120 1054,129 1057,138 1060,153 1059,168 1057,180 1052,192 1044,201 1035,208 1026,212 1017,213Z"/>
<path fill="#58f700" d="M459,210 447,211 438,210 429,207 423,204 417,199 411,192 406,183 404,174 402,162 402,150 404,138 408,128 413,120 420,113 429,107 438,104 450,104 462,105 474,108 486,113 495,120 503,129 508,138 511,147 512,156 511,168 508,177 505,183 500,189 492,197 483,203 471,208 459,210ZM1023,210 1014,211 999,210 987,207 975,201 966,195 960,189 956,183 950,171 949,162 949,153 950,144 954,135 960,126 966,120 975,113 984,109 993,106 1005,104 1017,104 1026,106 1035,110 1044,117 1050,124 1054,132 1057,144 1058,156 1057,171 1054,183 1049,192 1041,201 1032,207 1023,210Z"/>
<path fill="#6cf700" d="M462,207 450,209 441,208 432,206 426,203 420,199 413,192 408,183 405,174 403,162 404,150 406,138 409,129 414,122 420,115 429,110 438,106 447,106 459,107 471,109 483,115 492,121 499,129 505,138 508,147 509,159 507,168 504,177 499,186 492,193 483,200 474,204 462,207ZM1023,208 1014,209 1002,208 990,205 981,201 972,196 964,189 959,183 955,174 952,165 952,156 953,147 956,138 961,129 967,123 974,117 984,112 993,109 1008,106 1020,106 1029,109 1035,112 1044,119 1049,126 1052,132 1056,144 1057,156 1056,171 1053,181 1047,192 1041,199 1032,205 1023,208Z"/>
<path fill="#80f700" d="M465,204 456,206 444,207 435,205 429,203 423,199 417,194 413,189 408,180 406,171 405,159 405,147 407,138 409,132 413,126 417,121 426,113 432,110 441,108 450,107 465,110 474,113 483,118 492,125 498,132 503,141 505,150 505,162 503,171 499,180 492,189 483,197 471,203 465,204ZM1026,205 1017,207 1002,206 990,203 984,200 978,197 968,189 961,180 958,174 956,165 955,156 956,147 959,138 965,129 971,123 978,117 987,113 996,110 1011,108 1017,108 1026,109 1035,114 1041,118 1047,126 1052,135 1055,147 1056,159 1055,171 1052,180 1049,186 1045,192 1041,196 1032,203 1026,205Z"/>
<path fill="#94f700" d="M459,204 450,205 441,205 432,203 426,200 420,195 413,186 410,180 407,171 406,162 406,150 407,141 411,132 416,123 423,116 429,113 438,109 450,109 462,110 471,113 480,118 490,126 497,135 500,141 502,150 503,159 502,165 499,174 494,183 486,192 480,196 468,202 459,204ZM1023,205 1017,205 1005,205 996,203 987,200 981,197 971,189 964,180 961,174 958,165 958,156 959,147 962,138 968,129 974,123 984,116 990,113 999,110 1008,109 1017,109 1026,111 1035,115 1041,120 1046,126 1051,135 1054,147 1055,159 1054,168 1051,180 1046,189 1041,195 1032,201 1023,205Z"/>
<path fill="#a7f700" d="M450,204 441,204 435,203 426,198 420,194 414,186 411,180 408,171 407,162 407,153 408,144 410,135 415,126 421,120 429,114 435,111 444,110 456,110 465,112 474,116 483,121 489,127 495,135 499,144 501,153 501,162 499,171 494,180 487,189 480,194 471,199 462,202 450,204ZM1017,204 1005,204 996,202 987,198 978,193 971,186 964,177 962,171 959,159 960,150 962,141 965,135 972,126 980,120 987,116 996,112 1008,110 1017,110 1023,111 1032,114 1038,119 1044,125 1048,132 1052,141 1054,150 1054,162 1052,171 1050,180 1044,189 1038,196 1032,200 1026,203 1017,204Z"/>
<path fill="#bbf700" d="M462,201 453,203 444,203 435,201 429,199 423,195 417,189 413,183 410,174 408,165 408,153 409,144 412,135 415,129 420,122 426,117 435,113 444,111 453,111 465,114 474,117 483,123 489,129 493,135 498,144 499,153 499,162 497,171 493,180 488,186 480,193 471,198 462,201ZM1026,201 1017,203 1008,203 999,201 989,198 981,193 975,189 969,182 964,174 962,168 961,159 961,150 964,141 969,132 974,126 981,121 990,116 999,113 1008,111 1017,111 1026,113 1032,116 1038,120 1044,127 1049,135 1052,144 1053,156 1052,168 1050,177 1045,186 1041,192 1035,197 1026,201Z"/>
<path fill="#cff700" d="M456,201 447,202 441,202 432,199 426,196 420,191 414,183 412,177 409,168 408,159 409,150 410,141 414,132 418,126 424,120 429,116 438,113 447,112 459,113 468,116 477,120 485,126 490,132 495,141 498,150 498,159 497,168 493,177 489,183 483,189 474,195 465,199 456,201ZM1023,201 1014,202 1005,201 996,199 987,196 981,192 974,186 969,180 965,171 962,162 962,153 964,144 967,138 972,130 978,124 984,120 993,116 1002,113 1011,112 1020,113 1026,114 1032,117 1040,123 1044,129 1049,138 1051,147 1052,159 1051,168 1049,177 1044,186 1038,193 1032,197 1023,201Z"/>
<path fill="#e2f700" d="M462,199 453,200 444,201 438,200 432,198 426,195 420,189 416,183 412,174 410,165 409,156 410,147 412,138 417,129 422,123 429,118 435,115 444,113 453,114 462,115 471,118 479,123 486,129 490,135 495,144 497,153 497,162 494,171 491,177 486,184 480,190 471,195 462,199ZM1026,199 1017,201 1008,201 999,199 990,196 983,192 976,186 971,180 967,174 965,168 964,159 964,150 967,141 970,135 975,129 982,123 990,118 996,116 1005,114 1014,113 1023,114 1032,118 1038,123 1043,129 1047,135 1050,144 1051,153 1051,165 1049,174 1045,183 1041,189 1034,195 1026,199Z"/>
<path fill="#f7f700" d="M459,198 450,200 444,200 435,198 429,195 423,191 419,186 415,180 412,171 410,162 410,153 412,144 415,135 420,127 426,121 432,117 438,115 447,114 456,115 468,118 474,121 481,126 487,132 491,138 494,147 496,156 495,165 492,174 488,180 483,186 477,191 471,194 459,198ZM1023,199 1017,200 1008,199 996,197 990,195 981,189 975,183 970,177 967,171 965,162 965,153 967,144 970,138 974,132 980,126 987,121 993,118 1002,116 1008,115 1017,114 1023,115 1029,118 1038,124 1042,129 1047,138 1049,147 1050,159 1049,168 1047,177 1044,183 1038,190 1029,197 1023,199Z"/>
<path fill="#f7e200" d="M453,198 444,199 438,198 432,196 426,192 420,186 416,180 413,171 412,165 411,156 412,147 414,138 417,132 422,126 426,122 432,118 441,115 450,115 459,116 468,119 477,124 482,129 488,135 491,141 494,150 494,159 494,165 490,174 484,183 480,187 471,193 462,197 453,198ZM1020,198 1011,199 999,197 990,193 984,190 978,185 974,180 970,174 967,165 966,156 967,147 969,141 973,135 978,129 987,122 996,118 1005,116 1014,115 1020,116 1029,119 1035,123 1039,126 1043,132 1046,138 1048,147 1049,159 1048,168 1046,177 1043,183 1038,189 1032,194 1026,197 1020,198Z"/>
<path fill="#f7cf00" d="M462,196 453,197 444,198 438,197 432,195 426,191 421,186 417,180 414,171 412,162 412,153 413,144 417,135 420,129 426,123 432,119 438,117 444,116 453,116 465,119 471,122 477,125 484,132 490,141 492,147 493,153 493,162 491,171 488,177 483,183 477,188 468,193 462,196ZM1026,196 1020,198 1011,198 1002,197 993,194 987,191 980,186 975,180 971,174 968,165 967,159 968,150 969,144 972,138 976,132 984,125 990,122 996,119 1005,117 1014,116 1020,116 1029,120 1034,123 1040,129 1044,135 1047,144 1048,153 1048,165 1046,174 1042,183 1038,188 1032,193 1026,196Z"/>
<path fill="#f7bb00" d="M459,196 444,197 438,196 432,194 426,190 422,186 417,178 415,171 413,162 413,153 414,146 416,138 419,132 424,126 432,120 438,118 447,117 456,118 465,120 471,123 477,126 483,132 487,138 491,147 493,156 492,162 490,171 487,177 482,183 474,189 468,193 459,196ZM1026,195 1020,197 1011,197 1002,196 993,193 987,190 981,185 976,180 972,174 969,165 968,159 969,150 970,144 973,138 978,132 984,126 990,122 999,119 1008,117 1017,117 1023,118 1029,120 1035,125 1039,129 1043,135 1045,141 1047,153 1047,165 1045,174 1042,180 1038,186 1032,192 1026,195Z"/>
<path fill="#f7a700" d="M456,195 447,196 441,196 435,194 430,192 423,186 420,182 416,174 415,168 414,159 414,150 417,138 420,132 425,126 429,123 435,119 441,118 450,118 459,119 468,122 474,125 480,130 484,135 488,141 491,150 492,159 491,165 487,174 483,180 477,186 471,190 465,193 456,195ZM1023,195 1017,196 1008,196 999,194 990,191 983,186 978,181 973,174 971,168 969,162 969,153 970,147 973,141 976,135 982,129 987,125 996,121 1005,118 1014,118 1020,118 1026,120 1032,123 1038,129 1044,140 1046,156 1046,165 1044,174 1041,181 1035,188 1029,193 1023,195Z"/>
<path fill="#f79400" d="M453,195 441,195 435,194 429,190 424,186 420,180 417,174 416,168 415,159 416,150 417,142 420,134 423,129 430,123 435,120 441,118 450,118 459,120 468,123 474,126 480,131 485,138 488,144 490,150 491,156 490,165 486,174 482,180 477,185 471,189 462,193 453,195ZM1020,195 1014,196 1005,195 996,192 989,189 984,186 978,180 974,174 971,165 970,159 970,150 972,144 975,138 980,132 987,126 993,123 1002,120 1011,118 1017,118 1023,120 1029,122 1034,126 1038,131 1041,136 1044,144 1045,153 1045,162 1044,171 1041,179 1036,186 1032,190 1026,193 1020,195Z"/>
<path fill="#f78000" d="M462,192 456,194 447,195 441,195 435,193 429,189 426,186 421,180 419,174 417,167 416,156 417,148 420,138 423,132 428,126 432,123 438,120 447,119 456,120 465,122 471,125 477,130 482,135 486,141 488,147 490,156 489,162 488,168 485,174 481,180 475,186 468,190 462,192ZM1014,195 1005,194 996,192 990,189 982,183 977,177 974,171 971,162 971,156 972,147 974,141 978,135 984,129 990,125 999,121 1005,120 1014,119 1020,120 1026,122 1032,126 1035,129 1039,135 1042,141 1043,150 1044,159 1044,165 1042,174 1039,180 1035,186 1032,189 1026,193 1020,195 1014,195Z"/>
<path fill="#f76c00" d="M459,192 453,194 444,194 435,192 430,189 427,186 423,180 420,174 419,165 418,156 419,147 421,138 424,132 429,126 433,123 438,121 444,120 453,120 462,122 468,125 474,128 480,134 485,141 488,147 489,153 489,162 487,168 484,174 480,180 474,185 468,189 459,192ZM1023,193 1017,194 1008,194 999,192 993,189 987,186 980,180 976,174 973,168 971,159 972,153 973,147 975,141 979,135 984,130 990,126 996,123 1002,121 1011,120 1017,120 1023,121 1029,124 1034,129 1039,138 1041,145 1042,156 1042,165 1040,174 1038,180 1033,186 1029,190 1023,193Z"/>
<path fill="#f75800" d="M456,192 447,193 441,193 437,192 432,189 428,186 424,180 421,171 421,162 421,147 422,141 424,135 428,129 431,126 435,123 441,121 447,120 456,121 462,123 471,127 477,132 482,138 486,144 487,150 488,159 487,165 485,171 481,177 477,182 471,187 465,190 456,192ZM1023,192 1017,193 1008,193 999,191 993,189 987,185 981,180 977,174 974,168 973,162 972,153 974,147 976,141 980,135 987,129 993,125 999,123 1005,121 1014,121 1023,122 1029,126 1032,129 1037,138 1039,144 1040,153 1040,165 1038,174 1036,180 1032,186 1029,189 1023,192Z"/>
<path fill="#f74400" d="M453,192 447,193 441,192 433,189 428,183 424,174 423,168 423,147 425,138 427,132 432,126 437,123 441,122 447,121 456,122 465,125 471,128 477,133 481,138 485,144 487,150 487,159 486,165 484,171 480,177 475,183 468,187 462,190 453,192ZM1020,192 1014,193 1006,192 996,189 990,186 984,181 980,177 976,171 974,165 973,159 974,150 976,144 979,138 984,132 988,129 993,126 1002,123 1014,121 1023,123 1028,126 1031,129 1033,132 1036,138 1037,147 1038,165 1037,171 1036,177 1033,183 1031,186 1026,190 1020,192Z"/>
<path fill="#f73100" d="M462,189 450,192 444,192 441,191 435,189 431,186 429,183 426,177 425,168 426,156 425,144 426,138 429,132 431,129 434,126 439,123 444,122 453,123 457,123 466,126 471,129 478,135 482,141 485,147 486,153 486,159 485,165 483,171 479,177 474,182 468,186 462,189ZM1014,192 1008,191 998,189 991,186 984,180 979,174 976,168 974,162 974,156 975,149 978,141 981,137 986,132 990,129 996,126 1005,123 1014,122 1020,123 1026,126 1029,129 1033,135 1035,144 1035,156 1036,168 1034,177 1032,182 1029,186 1023,190 1017,192 1014,192Z"/>
<path fill="#f71d00" d="M459,189 447,191 444,191 438,189 432,185 429,181 428,177 427,171 428,156 427,144 428,138 430,132 432,129 436,126 441,124 447,123 456,124 463,126 469,129 474,132 479,138 483,144 485,150 486,156 485,162 484,168 480,174 477,178 472,183 467,186 459,189ZM1023,189 1017,191 1014,191 999,188 993,186 987,182 982,177 978,171 975,162 975,156 976,150 978,144 981,138 984,135 990,130 996,127 1008,124 1014,123 1020,124 1024,126 1028,129 1032,135 1033,144 1032,156 1034,168 1034,174 1032,180 1030,183 1027,186 1023,189Z"/>
<path fill="#f70900" d="M453,189 444,190 438,188 432,183 430,180 428,174 428,168 431,156 428,144 429,138 432,132 434,129 438,126 444,124 453,125 459,126 465,128 471,131 475,135 480,141 483,147 485,153 485,159 484,165 481,171 477,177 471,182 465,186 459,188 453,189ZM1020,189 1014,190 1005,189 999,187 993,185 987,181 983,177 979,171 977,165 976,159 976,153 977,147 980,141 987,133 993,129 999,127 1011,125 1017,125 1020,125 1026,129 1029,132 1031,138 1032,147 1030,156 1032,168 1031,177 1029,182 1026,186 1020,189Z"/>
<path fill="#f70000" d="M459,187 450,188 441,188 435,184 432,180 430,177 430,174 430,168 433,156 430,147 430,138 432,134 435,130 441,126 447,125 456,126 462,128 468,131 474,135 477,138 482,147 484,153 484,159 483,165 480,171 476,177 471,181 465,185 459,187ZM1023,186 1020,188 1014,189 1005,188 999,186 993,184 987,179 984,176 980,171 978,165 976,159 977,153 978,147 981,141 984,138 987,135 993,130 999,128 1005,126 1017,126 1020,127 1024,129 1029,135 1030,138 1030,144 1027,156 1031,168 1031,174 1029,180 1027,183 1023,186Z"/>
</g></g>
<circle cx="445.3" cy="156.7" r="27.6" fill="url(#elec)" stroke="#1a1a10" stroke-width="1.3"/>
<circle cx="1015.1" cy="156.8" r="27.6" fill="url(#elec)" stroke="#1a1a10" stroke-width="1.3"/>
<text x="729" y="95.2" font-family="Liberation Serif, Times New Roman, serif" font-size="32" textLength="58.5" lengthAdjust="spacingAndGlyphs" fill="#3a3030">1mm</text>
<rect x="728.5" y="98.6" width="59" height="2.2" fill="#2a2020"/>
<ellipse cx="730.5" cy="156.8" rx="4.4" ry="4" fill="#e01010" stroke="#701010" stroke-width="0.8"/><path d="M731 153 l3.5 -2.5 l1.5 1" stroke="#a01010" stroke-width="1.2" fill="none"/>
<g stroke="#000" stroke-width="3.1" fill="none" stroke-linecap="butt"><path d="M506.8 279.6 L457.3 181.2"/><path d="M481 185.2 L457 180.6 L451.8 202.6"/></g>
<text x="508" y="308.8" font-family="Liberation Sans, Arial, sans-serif" font-size="33.4" fill="#000">Electrode</text>
<text x="640.5" y="377.4" font-family="Liberation Serif, Times New Roman, serif" font-size="33.5" text-anchor="middle" fill="#000">(<tspan font-weight="bold" font-size="31" dx="0.6">a</tspan><tspan dx="0.6">)</tspan></text>
<g clip-path="url(#b3clip)">
<rect x="5" y="385" width="729" height="564" fill="#fff"/>
<path d="M5.0 -22.1L734.0 398.6M5.0 3.7L734.0 424.3M5.0 29.5L734.0 450.1M5.0 55.2L734.0 475.9M5.0 81.0L734.0 501.6M5.0 106.7L734.0 527.4M5.0 132.5L734.0 553.1M5.0 158.3L734.0 578.9M5.0 184.0L734.0 604.7M5.0 209.8L734.0 630.4M5.0 235.5L734.0 656.2M5.0 261.3L734.0 681.9M5.0 287.1L734.0 707.7M5.0 312.8L734.0 733.5M5.0 338.6L734.0 759.2M5.0 364.3L734.0 785.0M5.0 390.1L734.0 810.7M5.0 415.9L734.0 836.5M5.0 441.6L734.0 862.3M5.0 467.4L734.0 888.0M5.0 493.1L734.0 913.8M5.0 518.9L734.0 939.5M5.0 544.7L734.0 965.3M5.0 570.4L734.0 991.1M5.0 596.2L734.0 1016.8M5.0 621.9L734.0 1042.6M5.0 647.7L734.0 1068.3M5.0 673.5L734.0 1094.1M5.0 699.2L734.0 1119.9M5.0 725.0L734.0 1145.6M5.0 750.7L734.0 1171.4M5.0 776.5L734.0 1197.1M5.0 802.3L734.0 1222.9M5.0 828.0L734.0 1248.7M5.0 853.8L734.0 1274.4M5.0 879.5L734.0 1300.2M5.0 905.3L734.0 1325.9M5.0 931.1L734.0 1351.7M5.0 396.1L734.0 -21.6M5.0 421.8L734.0 4.1M5.0 447.6L734.0 29.9M5.0 473.4L734.0 55.6M5.0 499.1L734.0 81.4M5.0 524.9L734.0 107.2M5.0 550.6L734.0 132.9M5.0 576.4L734.0 158.7M5.0 602.2L734.0 184.4M5.0 627.9L734.0 210.2M5.0 653.7L734.0 236.0M5.0 679.4L734.0 261.7M5.0 705.2L734.0 287.5M5.0 731.0L734.0 313.2M5.0 756.7L734.0 339.0M5.0 782.5L734.0 364.8M5.0 808.2L734.0 390.5M5.0 834.0L734.0 416.3M5.0 859.8L734.0 442.0M5.0 885.5L734.0 467.8M5.0 911.3L734.0 493.6M5.0 937.0L734.0 519.3M5.0 962.8L734.0 545.1M5.0 988.6L734.0 570.8M5.0 1014.3L734.0 596.6M5.0 1040.1L734.0 622.4M5.0 1065.8L734.0 648.1M5.0 1091.6L734.0 673.9M5.0 1117.4L734.0 699.6M5.0 1143.1L734.0 725.4M5.0 1168.9L734.0 751.2M5.0 1194.6L734.0 776.9M5.0 1220.4L734.0 802.7M5.0 1246.2L734.0 828.4M5.0 1271.9L734.0 854.2M5.0 1297.7L734.0 880.0M5.0 1323.4L734.0 905.7M5.0 1349.2L734.0 931.5" stroke="#e1e1e1" stroke-width="1.0" fill="none" />
<clipPath id="fineclip"><polygon points="5,605.6 279.0,448.6 734,711.1 734,949 5,949"/></clipPath>
<clipPath id="stripclip"><polygon points="5,547.2 279.0,390.2 734,652.7 734,711.1 279.0,448.6 5,605.6"/></clipPath>
<mask id="finemask" maskUnits="userSpaceOnUse" x="0" y="380" width="740" height="580"><rect x="0" y="380" width="740" height="580" fill="url(#finefade)"/></mask>
<g mask="url(#finemask)"><path d="M5.0 -34.9L734.0 385.7M5.0 -22.1L734.0 398.6M5.0 -9.2L734.0 411.5M5.0 16.6L734.0 437.2M5.0 29.5L734.0 450.1M5.0 42.3L734.0 463.0M5.0 55.2L734.0 475.9M5.0 81.0L734.0 501.6M5.0 93.9L734.0 514.5M5.0 106.7L734.0 527.4M5.0 119.6L734.0 540.3M5.0 145.4L734.0 566.0M5.0 158.3L734.0 578.9M5.0 171.1L734.0 591.8M5.0 184.0L734.0 604.7M5.0 209.8L734.0 630.4M5.0 222.7L734.0 643.3M5.0 235.5L734.0 656.2M5.0 248.4L734.0 669.1M5.0 274.2L734.0 694.8M5.0 287.1L734.0 707.7M5.0 299.9L734.0 720.6M5.0 312.8L734.0 733.5M5.0 338.6L734.0 759.2M5.0 351.5L734.0 772.1M5.0 364.3L734.0 785.0M5.0 377.2L734.0 797.9M5.0 403.0L734.0 823.6M5.0 415.9L734.0 836.5M5.0 428.7L734.0 849.4M5.0 441.6L734.0 862.3M5.0 467.4L734.0 888.0M5.0 480.3L734.0 900.9M5.0 493.1L734.0 913.8M5.0 506.0L734.0 926.7M5.0 531.8L734.0 952.4M5.0 544.7L734.0 965.3M5.0 557.5L734.0 978.2M5.0 570.4L734.0 991.1M5.0 596.2L734.0 1016.8M5.0 609.1L734.0 1029.7M5.0 621.9L734.0 1042.6M5.0 634.8L734.0 1055.5M5.0 660.6L734.0 1081.2M5.0 673.5L734.0 1094.1M5.0 686.3L734.0 1107.0M5.0 699.2L734.0 1119.9M5.0 725.0L734.0 1145.6M5.0 737.9L734.0 1158.5M5.0 750.7L734.0 1171.4M5.0 763.6L734.0 1184.3M5.0 789.4L734.0 1210.0M5.0 802.3L734.0 1222.9M5.0 815.1L734.0 1235.8M5.0 828.0L734.0 1248.7M5.0 853.8L734.0 1274.4M5.0 866.7L734.0 1287.3M5.0 879.5L734.0 1300.2M5.0 892.4L734.0 1313.1M5.0 918.2L734.0 1338.8M5.0 931.1L734.0 1351.7M5.0 943.9L734.0 1364.6M5.0 396.1L734.0 -21.6M5.0 409.0L734.0 -8.8M5.0 421.8L734.0 4.1M5.0 434.7L734.0 17.0M5.0 460.5L734.0 42.8M5.0 473.4L734.0 55.6M5.0 486.2L734.0 68.5M5.0 499.1L734.0 81.4M5.0 524.9L734.0 107.2M5.0 537.8L734.0 120.0M5.0 550.6L734.0 132.9M5.0 563.5L734.0 145.8M5.0 589.3L734.0 171.6M5.0 602.2L734.0 184.4M5.0 615.0L734.0 197.3M5.0 627.9L734.0 210.2M5.0 653.7L734.0 236.0M5.0 666.6L734.0 248.8M5.0 679.4L734.0 261.7M5.0 692.3L734.0 274.6M5.0 718.1L734.0 300.4M5.0 731.0L734.0 313.2M5.0 743.8L734.0 326.1M5.0 756.7L734.0 339.0M5.0 782.5L734.0 364.8M5.0 795.4L734.0 377.6M5.0 808.2L734.0 390.5M5.0 821.1L734.0 403.4M5.0 846.9L734.0 429.2M5.0 859.8L734.0 442.0M5.0 872.6L734.0 454.9M5.0 885.5L734.0 467.8M5.0 911.3L734.0 493.6M5.0 924.2L734.0 506.4M5.0 937.0L734.0 519.3M5.0 949.9L734.0 532.2M5.0 975.7L734.0 558.0M5.0 988.6L734.0 570.8M5.0 1001.4L734.0 583.7M5.0 1014.3L734.0 596.6M5.0 1040.1L734.0 622.4M5.0 1053.0L734.0 635.2M5.0 1065.8L734.0 648.1M5.0 1078.7L734.0 661.0M5.0 1104.5L734.0 686.8M5.0 1117.4L734.0 699.6M5.0 1130.2L734.0 712.5M5.0 1143.1L734.0 725.4M5.0 1168.9L734.0 751.2M5.0 1181.8L734.0 764.0M5.0 1194.6L734.0 776.9M5.0 1207.5L734.0 789.8M5.0 1233.3L734.0 815.6M5.0 1246.2L734.0 828.4M5.0 1259.0L734.0 841.3M5.0 1271.9L734.0 854.2M5.0 1297.7L734.0 880.0M5.0 1310.6L734.0 892.8M5.0 1323.4L734.0 905.7M5.0 1336.3L734.0 918.6M5.0 1362.1L734.0 944.4" stroke="#e0e0e0" stroke-width="1.0" fill="none" /><path d="M5.0 3.7L734.0 424.3M5.0 68.1L734.0 488.7M5.0 132.5L734.0 553.1M5.0 196.9L734.0 617.5M5.0 261.3L734.0 681.9M5.0 325.7L734.0 746.3M5.0 390.1L734.0 810.7M5.0 454.5L734.0 875.1M5.0 518.9L734.0 939.5M5.0 583.3L734.0 1003.9M5.0 647.7L734.0 1068.3M5.0 712.1L734.0 1132.7M5.0 776.5L734.0 1197.1M5.0 840.9L734.0 1261.5M5.0 905.3L734.0 1325.9M5.0 447.6L734.0 29.9M5.0 512.0L734.0 94.3M5.0 576.4L734.0 158.7M5.0 640.8L734.0 223.1M5.0 705.2L734.0 287.5M5.0 769.6L734.0 351.9M5.0 834.0L734.0 416.3M5.0 898.4L734.0 480.7M5.0 962.8L734.0 545.1M5.0 1027.2L734.0 609.5M5.0 1091.6L734.0 673.9M5.0 1156.0L734.0 738.3M5.0 1220.4L734.0 802.7M5.0 1284.8L734.0 867.1M5.0 1349.2L734.0 931.5" stroke="#d2d2d2" stroke-width="1.0" fill="none" /></g>
<g fill-opacity="0.86" stroke="none">
<polygon points="279.0,390.2 826.0,705.8 460.3,915.4 -86.7,599.7" fill="#c6c6e2"/>
<polygon points="279.0,390.2 -86.7,599.7 -86.7,628.9 279.0,419.4" fill="#e3e3f1"/>
<polygon points="279.0,419.4 -86.7,628.9 -86.7,658.1 279.0,448.6" fill="#cacae3"/>
<polygon points="279.0,390.2 826.0,705.8 826.0,735.0 279.0,419.4" fill="#d8d8ec"/>
<polygon points="279.0,419.4 826.0,735.0 826.0,764.2 279.0,448.6" fill="#c0c0de"/>
<polygon points="-86.7,599.7 460.3,915.4 826.0,705.8 826.0,735.0 460.3,944.6 -86.7,628.9" fill="#c1c1df"/>
<polygon points="-86.7,628.9 460.3,944.6 826.0,735.0 826.0,764.2 460.3,973.8 -86.7,658.1" fill="#dedeee"/>
</g>
<clipPath id="silclip"><polygon points="-86.7,599.7 279.0,390.2 826.0,705.8 826.0,764.2 460.3,973.8 -86.7,658.1"/></clipPath>
<g clip-path="url(#silclip)">
<path d="M5.0 -22.1L734.0 398.6M5.0 3.7L734.0 424.3M5.0 29.5L734.0 450.1M5.0 55.2L734.0 475.9M5.0 81.0L734.0 501.6M5.0 106.7L734.0 527.4M5.0 132.5L734.0 553.1M5.0 158.3L734.0 578.9M5.0 184.0L734.0 604.7M5.0 209.8L734.0 630.4M5.0 235.5L734.0 656.2M5.0 261.3L734.0 681.9M5.0 287.1L734.0 707.7M5.0 312.8L734.0 733.5M5.0 338.6L734.0 759.2M5.0 364.3L734.0 785.0M5.0 390.1L734.0 810.7M5.0 415.9L734.0 836.5M5.0 441.6L734.0 862.3M5.0 467.4L734.0 888.0M5.0 493.1L734.0 913.8M5.0 518.9L734.0 939.5M5.0 544.7L734.0 965.3M5.0 570.4L734.0 991.1M5.0 596.2L734.0 1016.8M5.0 621.9L734.0 1042.6M5.0 647.7L734.0 1068.3M5.0 673.5L734.0 1094.1M5.0 699.2L734.0 1119.9M5.0 725.0L734.0 1145.6M5.0 750.7L734.0 1171.4M5.0 776.5L734.0 1197.1M5.0 802.3L734.0 1222.9M5.0 828.0L734.0 1248.7M5.0 853.8L734.0 1274.4M5.0 879.5L734.0 1300.2M5.0 905.3L734.0 1325.9M5.0 931.1L734.0 1351.7M5.0 396.1L734.0 -21.6M5.0 421.8L734.0 4.1M5.0 447.6L734.0 29.9M5.0 473.4L734.0 55.6M5.0 499.1L734.0 81.4M5.0 524.9L734.0 107.2M5.0 550.6L734.0 132.9M5.0 576.4L734.0 158.7M5.0 602.2L734.0 184.4M5.0 627.9L734.0 210.2M5.0 653.7L734.0 236.0M5.0 679.4L734.0 261.7M5.0 705.2L734.0 287.5M5.0 731.0L734.0 313.2M5.0 756.7L734.0 339.0M5.0 782.5L734.0 364.8M5.0 808.2L734.0 390.5M5.0 834.0L734.0 416.3M5.0 859.8L734.0 442.0M5.0 885.5L734.0 467.8M5.0 911.3L734.0 493.6M5.0 937.0L734.0 519.3M5.0 962.8L734.0 545.1M5.0 988.6L734.0 570.8M5.0 1014.3L734.0 596.6M5.0 1040.1L734.0 622.4M5.0 1065.8L734.0 648.1M5.0 1091.6L734.0 673.9M5.0 1117.4L734.0 699.6M5.0 1143.1L734.0 725.4M5.0 1168.9L734.0 751.2M5.0 1194.6L734.0 776.9M5.0 1220.4L734.0 802.7M5.0 1246.2L734.0 828.4M5.0 1271.9L734.0 854.2M5.0 1297.7L734.0 880.0M5.0 1323.4L734.0 905.7M5.0 1349.2L734.0 931.5" stroke="#505068" stroke-width="1.0" fill="none" stroke-opacity="0.10"/>
<g mask="url(#finemask)"><path d="M5.0 -34.9L734.0 385.7M5.0 -22.1L734.0 398.6M5.0 -9.2L734.0 411.5M5.0 16.6L734.0 437.2M5.0 29.5L734.0 450.1M5.0 42.3L734.0 463.0M5.0 55.2L734.0 475.9M5.0 81.0L734.0 501.6M5.0 93.9L734.0 514.5M5.0 106.7L734.0 527.4M5.0 119.6L734.0 540.3M5.0 145.4L734.0 566.0M5.0 158.3L734.0 578.9M5.0 171.1L734.0 591.8M5.0 184.0L734.0 604.7M5.0 209.8L734.0 630.4M5.0 222.7L734.0 643.3M5.0 235.5L734.0 656.2M5.0 248.4L734.0 669.1M5.0 274.2L734.0 694.8M5.0 287.1L734.0 707.7M5.0 299.9L734.0 720.6M5.0 312.8L734.0 733.5M5.0 338.6L734.0 759.2M5.0 351.5L734.0 772.1M5.0 364.3L734.0 785.0M5.0 377.2L734.0 797.9M5.0 403.0L734.0 823.6M5.0 415.9L734.0 836.5M5.0 428.7L734.0 849.4M5.0 441.6L734.0 862.3M5.0 467.4L734.0 888.0M5.0 480.3L734.0 900.9M5.0 493.1L734.0 913.8M5.0 506.0L734.0 926.7M5.0 531.8L734.0 952.4M5.0 544.7L734.0 965.3M5.0 557.5L734.0 978.2M5.0 570.4L734.0 991.1M5.0 596.2L734.0 1016.8M5.0 609.1L734.0 1029.7M5.0 621.9L734.0 1042.6M5.0 634.8L734.0 1055.5M5.0 660.6L734.0 1081.2M5.0 673.5L734.0 1094.1M5.0 686.3L734.0 1107.0M5.0 699.2L734.0 1119.9M5.0 725.0L734.0 1145.6M5.0 737.9L734.0 1158.5M5.0 750.7L734.0 1171.4M5.0 763.6L734.0 1184.3M5.0 789.4L734.0 1210.0M5.0 802.3L734.0 1222.9M5.0 815.1L734.0 1235.8M5.0 828.0L734.0 1248.7M5.0 853.8L734.0 1274.4M5.0 866.7L734.0 1287.3M5.0 879.5L734.0 1300.2M5.0 892.4L734.0 1313.1M5.0 918.2L734.0 1338.8M5.0 931.1L734.0 1351.7M5.0 943.9L734.0 1364.6M5.0 396.1L734.0 -21.6M5.0 409.0L734.0 -8.8M5.0 421.8L734.0 4.1M5.0 434.7L734.0 17.0M5.0 460.5L734.0 42.8M5.0 473.4L734.0 55.6M5.0 486.2L734.0 68.5M5.0 499.1L734.0 81.4M5.0 524.9L734.0 107.2M5.0 537.8L734.0 120.0M5.0 550.6L734.0 132.9M5.0 563.5L734.0 145.8M5.0 589.3L734.0 171.6M5.0 602.2L734.0 184.4M5.0 615.0L734.0 197.3M5.0 627.9L734.0 210.2M5.0 653.7L734.0 236.0M5.0 666.6L734.0 248.8M5.0 679.4L734.0 261.7M5.0 692.3L734.0 274.6M5.0 718.1L734.0 300.4M5.0 731.0L734.0 313.2M5.0 743.8L734.0 326.1M5.0 756.7L734.0 339.0M5.0 782.5L734.0 364.8M5.0 795.4L734.0 377.6M5.0 808.2L734.0 390.5M5.0 821.1L734.0 403.4M5.0 846.9L734.0 429.2M5.0 859.8L734.0 442.0M5.0 872.6L734.0 454.9M5.0 885.5L734.0 467.8M5.0 911.3L734.0 493.6M5.0 924.2L734.0 506.4M5.0 937.0L734.0 519.3M5.0 949.9L734.0 532.2M5.0 975.7L734.0 558.0M5.0 988.6L734.0 570.8M5.0 1001.4L734.0 583.7M5.0 1014.3L734.0 596.6M5.0 1040.1L734.0 622.4M5.0 1053.0L734.0 635.2M5.0 1065.8L734.0 648.1M5.0 1078.7L734.0 661.0M5.0 1104.5L734.0 686.8M5.0 1117.4L734.0 699.6M5.0 1130.2L734.0 712.5M5.0 1143.1L734.0 725.4M5.0 1168.9L734.0 751.2M5.0 1181.8L734.0 764.0M5.0 1194.6L734.0 776.9M5.0 1207.5L734.0 789.8M5.0 1233.3L734.0 815.6M5.0 1246.2L734.0 828.4M5.0 1259.0L734.0 841.3M5.0 1271.9L734.0 854.2M5.0 1297.7L734.0 880.0M5.0 1310.6L734.0 892.8M5.0 1323.4L734.0 905.7M5.0 1336.3L734.0 918.6M5.0 1362.1L734.0 944.4" stroke="#505068" stroke-width="1.0" fill="none" stroke-opacity="0.065"/><path d="M5.0 3.7L734.0 424.3M5.0 68.1L734.0 488.7M5.0 132.5L734.0 553.1M5.0 196.9L734.0 617.5M5.0 261.3L734.0 681.9M5.0 325.7L734.0 746.3M5.0 390.1L734.0 810.7M5.0 454.5L734.0 875.1M5.0 518.9L734.0 939.5M5.0 583.3L734.0 1003.9M5.0 647.7L734.0 1068.3M5.0 712.1L734.0 1132.7M5.0 776.5L734.0 1197.1M5.0 840.9L734.0 1261.5M5.0 905.3L734.0 1325.9M5.0 447.6L734.0 29.9M5.0 512.0L734.0 94.3M5.0 576.4L734.0 158.7M5.0 640.8L734.0 223.1M5.0 705.2L734.0 287.5M5.0 769.6L734.0 351.9M5.0 834.0L734.0 416.3M5.0 898.4L734.0 480.7M5.0 962.8L734.0 545.1M5.0 1027.2L734.0 609.5M5.0 1091.6L734.0 673.9M5.0 1156.0L734.0 738.3M5.0 1220.4L734.0 802.7M5.0 1284.8L734.0 867.1M5.0 1349.2L734.0 931.5" stroke="#484860" stroke-width="1.0" fill="none" stroke-opacity="0.12"/></g>
</g>
<g stroke="#3a3a44" stroke-width="0.9" fill="none">
<path d="M279.0 390.2L-86.7 599.7"/>
<path d="M279.0 390.2L826.0 705.8"/>
<path d="M279.0 448.6L-86.7 658.1"/>
<path d="M279.0 448.6L826.0 764.2"/>
<path d="M279.0 390.2L279.0 448.6"/>
<path d="M460.3 915.4L-86.7 599.7"/>
<path d="M460.3 915.4L826.0 705.8"/>
<path d="M460.3 944.6L-86.7 628.9"/>
<path d="M460.3 944.6L826.0 735.0"/>
<path d="M460.3 973.8L-86.7 658.1"/>
<path d="M460.3 973.8L826.0 764.2"/>
<path d="M460.3 915.4L460.3 973.8"/>
<path d="M826.0 705.8L826.0 764.2"/>
<path d="M-86.7 599.7L-86.7 658.1"/>
</g>
<path d="M279.0 419.4L-86.7 628.9" stroke="#1c5a2a" stroke-width="1.2"/>
<path d="M279.0 419.4L716.5 673.3" stroke="#1c1cb0" stroke-width="1.3"/>
<polygon points="727.6,678.4 716.2,677.6 719.2,669.8" fill="#1010e0"/>
<text x="728.6" y="680" font-family="Liberation Sans, Arial, sans-serif" font-size="8.5" font-weight="bold" fill="#1010e0">Y</text>
<path d="M279 419.4L279 410" stroke="#e01020" stroke-width="1.6"/><polygon points="279,399 274.4,411.4 283.6,411.4" fill="#e01020"/>
<text x="280.8" y="398.2" font-family="Liberation Sans, Arial, sans-serif" font-size="9" fill="#e01020">Z</text>
<path d="M286.5 553.5 L452 812.5M265.5 690.6 L369.8 681.2 L476 671" stroke="#202030" stroke-opacity="0.5" stroke-width="4.1" fill="none"/>
<path d="M286.5 553.5 L452 812.5" stroke="url(#chL)" stroke-width="2.9" fill="none"/>
<path d="M265.5 690.6 L369.8 681.2 L476 671" stroke="url(#chS)" stroke-width="2.9" fill="none"/>
<ellipse cx="279.3" cy="481.5" rx="16.2" ry="9.2" fill="#c4c4da" fill-opacity="0.95" stroke="#50505c" stroke-width="0.9"/>
<path d="M247.5 508.5 L247.5 537.3 A31.8 18.3 0 0 0 311.1 537.3 L311.1 508.5 A31.8 18.3 0 0 1 247.5 508.5 Z" fill="url(#cylg1)" stroke="#001060" stroke-width="0.8"/><path d="M247.5 521.5 Q279.3 539.5 311.1 531.5 L311.1 537.3 A31.8 18.3 0 0 1 247.5 537.3 Z" fill="#0a48ec" fill-opacity="0.75"/><ellipse cx="279.3" cy="508.5" rx="31.8" ry="18.3" fill="url(#cylt1)" stroke="#001060" stroke-width="0.8"/><ellipse cx="279.3" cy="508.1" rx="16.2" ry="9.5" fill="url(#cylh1)" stroke="#101840" stroke-width="0.9"/>
<ellipse cx="234.0" cy="638.8" rx="16.2" ry="9.2" fill="#c4c4da" fill-opacity="0.95" stroke="#50505c" stroke-width="0.9"/>
<path d="M202.2 665.8 L202.2 694.6 A31.8 18.3 0 0 0 265.8 694.6 L265.8 665.8 A31.8 18.3 0 0 1 202.2 665.8 Z" fill="url(#cylg2)" stroke="#001060" stroke-width="0.8"/><path d="M202.2 678.8 Q234.0 696.8 265.8 688.8 L265.8 694.6 A31.8 18.3 0 0 1 202.2 694.6 Z" fill="#0a64d8" fill-opacity="0.75"/><ellipse cx="234.0" cy="665.8" rx="31.8" ry="18.3" fill="url(#cylt2)" stroke="#001060" stroke-width="0.8"/><ellipse cx="234.0" cy="665.4" rx="16.2" ry="9.5" fill="url(#cylh2)" stroke="#101840" stroke-width="0.9"/>
<ellipse cx="506.0" cy="612.8" rx="16.2" ry="9.2" fill="#c4c4da" fill-opacity="0.95" stroke="#50505c" stroke-width="0.9"/>
<path d="M474.2 639.8 L474.2 668.6 A31.8 18.3 0 0 0 537.8 668.6 L537.8 639.8 A31.8 18.3 0 0 1 474.2 639.8 Z" fill="url(#cylg3)" stroke="#001060" stroke-width="0.8"/><ellipse cx="506.0" cy="639.8" rx="31.8" ry="18.3" fill="url(#cylt3)" stroke="#001060" stroke-width="0.8"/><ellipse cx="506.0" cy="639.4" rx="16.2" ry="9.5" fill="url(#cylh3)" stroke="#101840" stroke-width="0.9"/>
<ellipse cx="460.4" cy="770.0" rx="16.2" ry="9.2" fill="#c4c4da" fill-opacity="0.95" stroke="#50505c" stroke-width="0.9"/>
<path d="M428.6 797.0 L428.6 825.8 A31.8 18.3 0 0 0 492.2 825.8 L492.2 797.0 A31.8 18.3 0 0 1 428.6 797.0 Z" fill="url(#cylg4)" stroke="#001060" stroke-width="0.8"/><ellipse cx="460.4" cy="797.0" rx="31.8" ry="18.3" fill="url(#cylt4)" stroke="#001060" stroke-width="0.8"/><ellipse cx="460.4" cy="796.6" rx="16.2" ry="9.5" fill="url(#cylh4)" stroke="#101840" stroke-width="0.9"/>
<g stroke="#000" stroke-width="2.3" fill="none">
<path d="M296.2 479.8L581.0 479.8"/><path d="M303.7 471.3L296.2 479.8L303.7 488.3"/>
<path d="M311.3 519.2L581.0 519.2"/><path d="M318.8 510.7L311.3 519.2L318.8 527.7"/>
<path d="M297.6 561.4L587.0 561.4"/><path d="M305.1 552.9L297.6 561.4L305.1 569.9"/>
</g>
<text x="586.8" y="488.2" font-family="Liberation Sans, Arial, sans-serif" font-size="23.7" textLength="100.2" lengthAdjust="spacingAndGlyphs" fill="#000">Electrode</text>
<text x="586.8" y="527.2" font-family="Liberation Sans, Arial, sans-serif" font-size="23.7" textLength="100.8" lengthAdjust="spacingAndGlyphs" fill="#000">Reservoir</text>
<text x="587.4" y="564.2" font-family="Liberation Sans, Arial, sans-serif" font-size="23.7" textLength="142.8" lengthAdjust="spacingAndGlyphs" fill="#000">Microchannel</text>
<rect x="5" y="385" width="729" height="15" fill="url(#gfade)"/>
</g>
<rect x="5.8" y="708.3" width="301.8" height="235.3" fill="#fff"/>
<g transform="translate(0 700) scale(0.25)">
<clipPath id="inclip"><rect x="197" y="75" width="1031" height="896"/></clipPath>
<g clip-path="url(#inclip)">
<rect x="197" y="75" width="1035" height="900" fill="#eef7ec"/>
<polygon points="197,75 1232,75 1232,150 560,120 197,213" fill="#fefefe"/>
<polygon points="197,213 560,120 1232,150 1232,292 197,285" fill="#eff0dc"/>
<polygon points="197,285 1232,292 1232,395 560,350 197,505" fill="#f8f8ee"/>
<polygon points="197,505 560,350 1232,395 1232,640 560,590 486,630 197,625" fill="#d9ecd2"/>
<polygon points="197,505 560,350 560,590 486,630 197,625" fill="#dceed6"/>
<g stroke="#555" stroke-width="3.2" fill="none" stroke-opacity="0.8"><path d="M197 213L560 120L1232 150"/><path d="M197 505L560 350L1232 395"/><path d="M197 795L560 590L1232 640"/></g>
<path d="M560 120L560 590" stroke="#999" stroke-width="3"/>
<path d="M564 137L564 350" stroke="#f06060" stroke-width="3"/>
<path d="M560 350L492 377" stroke="#20b020" stroke-width="4"/><polygon points="484,380 498,368 500,384" fill="#20a020"/>
<path d="M560 350L690 358" stroke="#3030e0" stroke-width="4"/>
<ellipse cx="795" cy="455" rx="222" ry="42" fill="#cfdcec" stroke="#7a8494" stroke-width="3"/>
<path d="M573 188 L573 455 A222 42 0 0 0 1017 455 L1017 188 A222 28 0 0 0 573 188Z" fill="#8a80b0" fill-opacity="0.36"/>
<path d="M573 350 L573 455 A222 42 0 0 0 1017 455 L1017 372 Z" fill="#7090a8" fill-opacity="0.10"/>
<ellipse cx="795" cy="188" rx="222" ry="28" fill="#c9cae4" stroke="#8a8a9a" stroke-width="3"/>
<path d="M573 188L573 455M1017 188L1017 455" stroke="#8a8a9a" stroke-width="3"/>
<path d="M722 487 A168 31 0 1 1 760 489" fill="none" stroke="#7f93b4" stroke-width="11"/>
<path d="M722 487 A168 31 0 1 1 760 489" fill="none" stroke="#a9bbd6" stroke-width="6"/>
<path d="M748 488 L488 632" stroke="#7f90ac" stroke-width="15"/><path d="M748 488 L488 632" stroke="#b4c2da" stroke-width="8"/>
<path d="M685 75 L685 432 A111 20 0 0 0 907 432 L907 75 Z" fill="url(#elecIn)"/>
<path d="M685 75 L685 186 A111 16 0 0 0 907 186 L907 75Z" fill="url(#elecTop)"/>
<path d="M685 290 L685 432 A111 20 0 0 0 907 432 L907 292 Z" fill="#2a0830" fill-opacity="0.25"/>
</g>
<text x="305" y="108" font-family="Liberation Sans, Arial, sans-serif" font-size="43.5" textLength="182" lengthAdjust="spacingAndGlyphs" fill="#111" text-anchor="start">Electrode</text>
<text x="1018" y="100" font-family="Liberation Sans, Arial, sans-serif" font-size="43.5" textLength="184" lengthAdjust="spacingAndGlyphs" fill="#111" text-anchor="start">Reservoir</text>
<text x="1033" y="430" font-family="Liberation Sans, Arial, sans-serif" font-size="43.5" textLength="172" lengthAdjust="spacingAndGlyphs" fill="#111" text-anchor="start">Etch pad</text>
<text x="558" y="722" font-family="Liberation Sans, Arial, sans-serif" font-size="43.5" textLength="260" lengthAdjust="spacingAndGlyphs" fill="#111" text-anchor="start">Microchannel</text>
<text x="78" y="335" font-family="Liberation Sans, Arial, sans-serif" font-size="43.5" textLength="72" lengthAdjust="spacingAndGlyphs" fill="#111" text-anchor="start">Top</text>
<text x="65" y="388" font-family="Liberation Sans, Arial, sans-serif" font-size="43.5" textLength="92" lengthAdjust="spacingAndGlyphs" fill="#111" text-anchor="start">slide</text>
<text x="45" y="645" font-family="Liberation Sans, Arial, sans-serif" font-size="43.5" textLength="140" lengthAdjust="spacingAndGlyphs" fill="#111" text-anchor="start">Bottom</text>
<text x="68" y="697" font-family="Liberation Sans, Arial, sans-serif" font-size="43.5" textLength="92" lengthAdjust="spacingAndGlyphs" fill="#111" text-anchor="start">slide</text>
<g stroke="#111" stroke-width="4.5" fill="none">
<path d="M495 97L680 97M655 82L682 97L655 112"/>
<path d="M1003 85L930 183M932 150L930 183L958 166"/>
<path d="M1030 410L932 452M950 426L932 452L962 458"/>
<path d="M548 700L508 640M506 672L508 640L536 654"/>
</g>
<g stroke="#444" stroke-width="3" fill="none"><path d="M197 213L127 290M122 398L190 505L120 598M110 705L193 795"/></g>
</g>
<rect x="5.8" y="708.3" width="301.8" height="235.3" fill="none" stroke="#000" stroke-width="1.8"/>
<rect x="5" y="385" width="110" height="240" fill="#fff"/>
<rect x="8.2" y="388.2" width="102.6" height="232.4" fill="#fff" stroke="#333" stroke-width="1.1"/>
<text x="13.6" y="402.4" font-family="DejaVu Sans Mono, Liberation Mono, monospace" font-weight="bold" font-size="9" textLength="35.8" lengthAdjust="spacingAndGlyphs" fill="#111">E[V/m]</text>
<rect x="13.6" y="412.00" width="26.2" height="12.75" fill="#ff0000"/>
<rect x="13.6" y="424.45" width="26.2" height="12.75" fill="#ff4300"/>
<rect x="13.6" y="436.90" width="26.2" height="12.75" fill="#ff8700"/>
<rect x="13.6" y="449.35" width="26.2" height="12.75" fill="#ffcb00"/>
<rect x="13.6" y="461.80" width="26.2" height="12.75" fill="#edff00"/>
<rect x="13.6" y="474.25" width="26.2" height="12.75" fill="#a9ff00"/>
<rect x="13.6" y="486.70" width="26.2" height="12.75" fill="#65ff00"/>
<rect x="13.6" y="499.15" width="26.2" height="12.75" fill="#21ff00"/>
<rect x="13.6" y="511.60" width="26.2" height="12.75" fill="#00ff21"/>
<rect x="13.6" y="524.05" width="26.2" height="12.75" fill="#00ff65"/>
<rect x="13.6" y="536.50" width="26.2" height="12.75" fill="#00ffaa"/>
<rect x="13.6" y="548.95" width="26.2" height="12.75" fill="#00ffee"/>
<rect x="13.6" y="561.40" width="26.2" height="12.75" fill="#00ccff"/>
<rect x="13.6" y="573.85" width="26.2" height="12.75" fill="#0088ff"/>
<rect x="13.6" y="586.30" width="26.2" height="12.75" fill="#0044ff"/>
<rect x="13.6" y="598.75" width="26.2" height="12.75" fill="#0000ff"/>
<text x="48.2" y="415.5" font-family="DejaVu Sans Mono, Liberation Mono, monospace" font-size="8.3" textLength="57.8" lengthAdjust="spacingAndGlyphs" fill="#1a1a1a" stroke="#1a1a1a" stroke-width="0.2">1.0000e+005</text>
<text x="48.2" y="427.9" font-family="DejaVu Sans Mono, Liberation Mono, monospace" font-size="8.3" textLength="57.8" lengthAdjust="spacingAndGlyphs" fill="#1a1a1a" stroke="#1a1a1a" stroke-width="0.2">9.3750e+004</text>
<text x="48.2" y="440.4" font-family="DejaVu Sans Mono, Liberation Mono, monospace" font-size="8.3" textLength="57.8" lengthAdjust="spacingAndGlyphs" fill="#1a1a1a" stroke="#1a1a1a" stroke-width="0.2">8.7500e+004</text>
<text x="48.2" y="452.8" font-family="DejaVu Sans Mono, Liberation Mono, monospace" font-size="8.3" textLength="57.8" lengthAdjust="spacingAndGlyphs" fill="#1a1a1a" stroke="#1a1a1a" stroke-width="0.2">8.1250e+004</text>
<text x="48.2" y="465.2" font-family="DejaVu Sans Mono, Liberation Mono, monospace" font-size="8.3" textLength="57.8" lengthAdjust="spacingAndGlyphs" fill="#1a1a1a" stroke="#1a1a1a" stroke-width="0.2">7.5000e+004</text>
<text x="48.2" y="477.6" font-family="DejaVu Sans Mono, Liberation Mono, monospace" font-size="8.3" textLength="57.8" lengthAdjust="spacingAndGlyphs" fill="#1a1a1a" stroke="#1a1a1a" stroke-width="0.2">6.8750e+004</text>
<text x="48.2" y="490.1" font-family="DejaVu Sans Mono, Liberation Mono, monospace" font-size="8.3" textLength="57.8" lengthAdjust="spacingAndGlyphs" fill="#1a1a1a" stroke="#1a1a1a" stroke-width="0.2">6.2500e+004</text>
<text x="48.2" y="502.5" font-family="DejaVu Sans Mono, Liberation Mono, monospace" font-size="8.3" textLength="57.8" lengthAdjust="spacingAndGlyphs" fill="#1a1a1a" stroke="#1a1a1a" stroke-width="0.2">5.6250e+004</text>
<text x="48.2" y="514.9" font-family="DejaVu Sans Mono, Liberation Mono, monospace" font-size="8.3" textLength="57.8" lengthAdjust="spacingAndGlyphs" fill="#1a1a1a" stroke="#1a1a1a" stroke-width="0.2">5.0000e+004</text>
<text x="48.2" y="527.4" font-family="DejaVu Sans Mono, Liberation Mono, monospace" font-size="8.3" textLength="57.8" lengthAdjust="spacingAndGlyphs" fill="#1a1a1a" stroke="#1a1a1a" stroke-width="0.2">4.3750e+004</text>
<text x="48.2" y="539.8" font-family="DejaVu Sans Mono, Liberation Mono, monospace" font-size="8.3" textLength="57.8" lengthAdjust="spacingAndGlyphs" fill="#1a1a1a" stroke="#1a1a1a" stroke-width="0.2">3.7500e+004</text>
<text x="48.2" y="552.2" font-family="DejaVu Sans Mono, Liberation Mono, monospace" font-size="8.3" textLength="57.8" lengthAdjust="spacingAndGlyphs" fill="#1a1a1a" stroke="#1a1a1a" stroke-width="0.2">3.1250e+004</text>
<text x="48.2" y="564.7" font-family="DejaVu Sans Mono, Liberation Mono, monospace" font-size="8.3" textLength="57.8" lengthAdjust="spacingAndGlyphs" fill="#1a1a1a" stroke="#1a1a1a" stroke-width="0.2">2.5000e+004</text>
<text x="48.2" y="577.1" font-family="DejaVu Sans Mono, Liberation Mono, monospace" font-size="8.3" textLength="57.8" lengthAdjust="spacingAndGlyphs" fill="#1a1a1a" stroke="#1a1a1a" stroke-width="0.2">1.8750e+004</text>
<text x="48.2" y="589.5" font-family="DejaVu Sans Mono, Liberation Mono, monospace" font-size="8.3" textLength="57.8" lengthAdjust="spacingAndGlyphs" fill="#1a1a1a" stroke="#1a1a1a" stroke-width="0.2">1.2500e+004</text>
<text x="48.2" y="602.0" font-family="DejaVu Sans Mono, Liberation Mono, monospace" font-size="8.3" textLength="57.8" lengthAdjust="spacingAndGlyphs" fill="#1a1a1a" stroke="#1a1a1a" stroke-width="0.2">6.2500e+003</text>
<text x="48.2" y="614.4" font-family="DejaVu Sans Mono, Liberation Mono, monospace" font-size="8.3" textLength="57.8" lengthAdjust="spacingAndGlyphs" fill="#1a1a1a" stroke="#1a1a1a" stroke-width="0.2">0.0000e+000</text>
<text x="640.5" y="988.6" font-family="Liberation Serif, Times New Roman, serif" font-size="33.5" text-anchor="middle" fill="#000">(<tspan font-weight="bold" font-size="31" dx="0.6">b</tspan><tspan dx="0.6">)</tspan></text>
<g clip-path="url(#schclip)">
<rect x="789" y="422" width="491" height="125" fill="#e4e4e4"/>
<path d="M790.8 422V546M809.6 422V546M828.4 422V546M847.3 422V546M866.1 422V546M884.9 422V546M903.7 422V546M922.5 422V546M941.4 422V546M960.2 422V546M979.0 422V546M997.8 422V546M1016.6 422V546M1035.5 422V546M1054.3 422V546M1073.1 422V546M1091.9 422V546M1110.7 422V546M1129.6 422V546M1148.4 422V546M1167.2 422V546M1186.0 422V546M1204.8 422V546M1223.7 422V546M1242.5 422V546M1261.3 422V546M789 423.0H1280M789 442.9H1280M789 464.2H1280M789 484.8H1280M789 505.1H1280M789 525.9H1280M789 545.2H1280" stroke="#cfcfcf" stroke-width="1" fill="none"/>
<ellipse cx="846.7" cy="484.7" rx="37.3" ry="42" fill="#858585" stroke="#474747" stroke-width="1.1"/>
<ellipse cx="846.7" cy="484.7" rx="26" ry="29" fill="#767676" fill-opacity="0.7"/>
<ellipse cx="846.7" cy="484.7" rx="18.6" ry="20.6" fill="#8e8e8e" fill-opacity="0.16" stroke="#a0a0a0" stroke-opacity="0.5" stroke-width="0.7"/>
<ellipse cx="829.2" cy="484.7" rx="18.6" ry="20.6" fill="#8e8e8e" fill-opacity="0.16" stroke="#a0a0a0" stroke-opacity="0.5" stroke-width="0.7"/>
<ellipse cx="864.2" cy="484.7" rx="18.6" ry="20.6" fill="#8e8e8e" fill-opacity="0.16" stroke="#a0a0a0" stroke-opacity="0.5" stroke-width="0.7"/>
<ellipse cx="846.7" cy="464.7" rx="18.6" ry="20.6" fill="#8e8e8e" fill-opacity="0.16" stroke="#a0a0a0" stroke-opacity="0.5" stroke-width="0.7"/>
<ellipse cx="846.7" cy="504.7" rx="18.6" ry="20.6" fill="#8e8e8e" fill-opacity="0.16" stroke="#a0a0a0" stroke-opacity="0.5" stroke-width="0.7"/>
<ellipse cx="1222.7" cy="484.7" rx="37.3" ry="42" fill="#858585" stroke="#474747" stroke-width="1.1"/>
<ellipse cx="1222.7" cy="484.7" rx="26" ry="29" fill="#767676" fill-opacity="0.7"/>
<ellipse cx="1222.7" cy="484.7" rx="18.6" ry="20.6" fill="#8e8e8e" fill-opacity="0.16" stroke="#a0a0a0" stroke-opacity="0.5" stroke-width="0.7"/>
<ellipse cx="1205.2" cy="484.7" rx="18.6" ry="20.6" fill="#8e8e8e" fill-opacity="0.16" stroke="#a0a0a0" stroke-opacity="0.5" stroke-width="0.7"/>
<ellipse cx="1240.2" cy="484.7" rx="18.6" ry="20.6" fill="#8e8e8e" fill-opacity="0.16" stroke="#a0a0a0" stroke-opacity="0.5" stroke-width="0.7"/>
<ellipse cx="1222.7" cy="464.7" rx="18.6" ry="20.6" fill="#8e8e8e" fill-opacity="0.16" stroke="#a0a0a0" stroke-opacity="0.5" stroke-width="0.7"/>
<ellipse cx="1222.7" cy="504.7" rx="18.6" ry="20.6" fill="#8e8e8e" fill-opacity="0.16" stroke="#a0a0a0" stroke-opacity="0.5" stroke-width="0.7"/>
<path d="M884 484.8H1035" stroke="#5c5c5c" stroke-width="4.2"/><path d="M884 484.6H1035" stroke="#9a9a9a" stroke-width="1.1"/>
<path d="M1035 485.6H1185.6" stroke="#7a7a7a" stroke-width="4.4"/><path d="M1035 484.4H1185.6" stroke="#262626" stroke-width="3"/>
<path d="M1259.8 484.4H1281" stroke="#444" stroke-width="1.6"/>
<path d="M1034.7 484.8V546" stroke="#4a4a4a" stroke-width="1.4"/><polygon points="1034.7,506.4 1032.2,500.6 1037.2,500.6" fill="#444"/>
<circle cx="1034.8" cy="484.8" r="3.7" fill="#555"/><circle cx="1052" cy="485.2" r="1.7" fill="#1c1c1c"/>
<path d="M1036 481.5l3.4 -2.2" stroke="#666" stroke-width="0.8"/>
<path d="M1034.7 443.3H1072" stroke="#333" stroke-width="1.2"/>
<text x="1078" y="447.5" font-family="Liberation Sans, Arial, sans-serif" font-size="13.4" textLength="29.2" lengthAdjust="spacingAndGlyphs" fill="#111">1mm</text>
<text x="944.9" y="472.8" font-family="Liberation Sans, Arial, sans-serif" font-size="13.1" textLength="79.6" lengthAdjust="spacingAndGlyphs" fill="#111">Microchannel</text>
<text x="1114" y="466.6" font-family="Liberation Sans, Arial, sans-serif" font-size="13.3" textLength="57.2" lengthAdjust="spacingAndGlyphs" fill="#111">Reservoir</text>
<text x="885.6" y="513.2" font-family="Liberation Sans, Arial, sans-serif" font-size="13.4" textLength="63.8" lengthAdjust="spacingAndGlyphs" fill="#111">Electrodes</text>
<text x="885.6" y="526.3" font-family="Liberation Sans, Arial, sans-serif" font-size="13.4" textLength="64.4" lengthAdjust="spacingAndGlyphs" fill="#111">at different</text>
<text x="891.3" y="538.9" font-family="Liberation Sans, Arial, sans-serif" font-size="13.4" textLength="53.0" lengthAdjust="spacingAndGlyphs" fill="#111">locations</text>
<g stroke="#222" stroke-width="1" fill="none"><path d="M941.5 469.3L929.5 481.6M930 477L929.5 481.6L934.2 481.2"/><path d="M1173.8 463.6L1188.6 468.5M1184 464.6L1188.6 468.5L1182.8 469.8"/>
<path d="M883.6 507.1L862 496.4M866.6 496.6L862 496.4L864.4 500.4M883.6 507.1L865 508.5M869 506.2L865 508.5L869.2 510.4M883.6 507.1L877.7 500M878.2 503.8L877.7 500L881.2 501.4"/></g>
<text x="846.7" y="458.8" font-family="Liberation Sans, Arial, sans-serif" font-size="14.8" text-anchor="middle" fill="#151515">3</text>
<text x="816.4" y="488.8" font-family="Liberation Sans, Arial, sans-serif" font-size="14.8" text-anchor="middle" fill="#151515">2</text>
<text x="854.8" y="488.2" font-family="Liberation Sans, Arial, sans-serif" font-size="14.8" text-anchor="middle" fill="#151515">1</text>
<text x="876.1" y="488.8" font-family="Liberation Sans, Arial, sans-serif" font-size="14.8" text-anchor="middle" fill="#151515">4</text>
<text x="846.7" y="521.0" font-family="Liberation Sans, Arial, sans-serif" font-size="14.8" text-anchor="middle" fill="#151515">5</text>
<text x="1224.0" y="458.8" font-family="Liberation Sans, Arial, sans-serif" font-size="14.8" text-anchor="middle" fill="#151515">3</text>
<text x="1191.4" y="488.8" font-family="Liberation Sans, Arial, sans-serif" font-size="14.8" text-anchor="middle" fill="#151515">4</text>
<text x="1214.3" y="488.2" font-family="Liberation Sans, Arial, sans-serif" font-size="14.8" text-anchor="middle" fill="#151515">1</text>
<text x="1253.3" y="488.8" font-family="Liberation Sans, Arial, sans-serif" font-size="14.8" text-anchor="middle" fill="#151515">2</text>
<text x="1224.0" y="521.0" font-family="Liberation Sans, Arial, sans-serif" font-size="14.8" text-anchor="middle" fill="#151515">5</text>
</g>
<path d="M809 545V568M1260.5 545V568M809 709V774.4M1260.5 709V774.4" stroke="#333" stroke-width="1" stroke-dasharray="1.3 1.5" fill="none"/>
<text x="1033" y="557.9" font-family="Liberation Sans, Arial, sans-serif" font-size="12.3" text-anchor="middle" textLength="327" lengthAdjust="spacingAndGlyphs" fill="#222">Electric field profile along x-axis developed per unit voltage excitation</text>
<rect x="809.0" y="568.1" width="451.5" height="141.0" fill="#fff" stroke="#111" stroke-width="1"/>
<path d="M809.0 709.1v-4.5M809.0 568.1v4.5M884.2 709.1v-4.5M884.2 568.1v4.5M959.5 709.1v-4.5M959.5 568.1v4.5M1034.8 709.1v-4.5M1034.8 568.1v4.5M1110.0 709.1v-4.5M1110.0 568.1v4.5M1185.2 709.1v-4.5M1185.2 568.1v4.5M1260.5 709.1v-4.5M1260.5 568.1v4.5M809.0 709.1h4.5M1260.5 709.1h-4.5M809.0 662.1h4.5M1260.5 662.1h-4.5M809.0 615.1h4.5M1260.5 615.1h-4.5M809.0 568.1h4.5M1260.5 568.1h-4.5" stroke="#222" stroke-width="0.9" fill="none"/>
<text x="809.0" y="724.8" font-family="Liberation Sans, Arial, sans-serif" font-size="12.4" text-anchor="middle" fill="#222" transform="translate(809.0 0) scale(0.82 1) translate(-809.0 0)">0</text>
<text x="884.2" y="724.8" font-family="Liberation Sans, Arial, sans-serif" font-size="12.4" text-anchor="middle" fill="#222" transform="translate(884.2 0) scale(0.82 1) translate(-884.2 0)">2</text>
<text x="959.5" y="724.8" font-family="Liberation Sans, Arial, sans-serif" font-size="12.4" text-anchor="middle" fill="#222" transform="translate(959.5 0) scale(0.82 1) translate(-959.5 0)">4</text>
<text x="1034.8" y="724.8" font-family="Liberation Sans, Arial, sans-serif" font-size="12.4" text-anchor="middle" fill="#222" transform="translate(1034.8 0) scale(0.82 1) translate(-1034.8 0)">6</text>
<text x="1110.0" y="724.8" font-family="Liberation Sans, Arial, sans-serif" font-size="12.4" text-anchor="middle" fill="#222" transform="translate(1110.0 0) scale(0.82 1) translate(-1110.0 0)">8</text>
<text x="1185.2" y="724.8" font-family="Liberation Sans, Arial, sans-serif" font-size="12.4" text-anchor="middle" fill="#222" transform="translate(1185.2 0) scale(0.82 1) translate(-1185.2 0)">10</text>
<text x="1260.5" y="724.8" font-family="Liberation Sans, Arial, sans-serif" font-size="12.4" text-anchor="middle" fill="#222" transform="translate(1260.5 0) scale(0.82 1) translate(-1260.5 0)">12</text>
<text x="806.5" y="713.3" font-family="Liberation Sans, Arial, sans-serif" font-size="12.4" text-anchor="end" fill="#222" transform="translate(806.5 0) scale(0.82 1) translate(-806.5 0)">0</text>
<text x="806.5" y="666.3" font-family="Liberation Sans, Arial, sans-serif" font-size="12.4" text-anchor="end" fill="#222" transform="translate(806.5 0) scale(0.82 1) translate(-806.5 0)">50</text>
<text x="806.5" y="619.3" font-family="Liberation Sans, Arial, sans-serif" font-size="12.4" text-anchor="end" fill="#222" transform="translate(806.5 0) scale(0.82 1) translate(-806.5 0)">100</text>
<text x="806.5" y="572.3" font-family="Liberation Sans, Arial, sans-serif" font-size="12.4" text-anchor="end" fill="#222" transform="translate(806.5 0) scale(0.82 1) translate(-806.5 0)">150</text>
<text x="1033" y="740.6" font-family="Liberation Sans, Arial, sans-serif" font-size="12.3" text-anchor="middle" textLength="131.5" lengthAdjust="spacingAndGlyphs" fill="#222">Distance along x-axis (mm)</text>
<text transform="translate(779.3 638.8) rotate(-90)" font-family="Liberation Sans, Arial, sans-serif" font-size="12.3" text-anchor="middle" textLength="151" lengthAdjust="spacingAndGlyphs" fill="#222">Electric field strength (V/m)</text>
<polyline points="809.0,586.9 818.0,681.8 827.1,708.5 836.1,708.5 845.1,708.5 854.1,708.5 863.2,708.5 872.2,708.5 881.2,697.8 890.3,593.5 899.3,593.5 908.3,593.5 917.4,593.5 926.4,593.5 935.4,593.5 944.5,593.5 953.5,593.5 962.5,593.5 971.5,593.5 980.6,593.5 989.6,593.5 998.6,593.5 1007.7,593.5 1016.7,593.5 1025.7,593.5 1034.8,593.5 1043.8,593.5 1052.8,593.5 1061.8,593.5 1070.9,593.5 1079.9,593.5 1088.9,593.5 1098.0,593.5 1107.0,593.5 1116.0,593.5 1125.0,593.5 1134.1,593.5 1143.1,593.5 1152.1,593.5 1161.2,593.5 1170.2,593.5 1179.2,593.5 1188.3,697.8 1197.3,708.5 1206.3,708.5 1215.3,708.5 1224.4,708.5 1233.4,708.5 1242.4,708.5 1251.5,690.3 1260.5,594.4" fill="none" stroke="#505050" stroke-width="1" stroke-dasharray="1.1 2.9"/>
<circle cx="809.0" cy="593.5" r="3.7" fill="none" stroke="#444" stroke-width="1"/>
<use href="#mk" x="818.0" y="681.8"/>
<use href="#mk" x="827.1" y="708.5"/>
<use href="#mk" x="836.1" y="708.5"/>
<use href="#mk" x="845.1" y="708.5"/>
<use href="#mk" x="854.1" y="708.5"/>
<use href="#mk" x="863.2" y="708.5"/>
<use href="#mk" x="872.2" y="708.5"/>
<use href="#mk" x="881.2" y="697.8"/>
<use href="#mk" x="890.3" y="593.5"/>
<use href="#mk" x="899.3" y="593.5"/>
<use href="#mk" x="908.3" y="593.5"/>
<use href="#mk" x="917.4" y="593.5"/>
<use href="#mk" x="926.4" y="593.5"/>
<use href="#mk" x="935.4" y="593.5"/>
<use href="#mk" x="944.5" y="593.5"/>
<use href="#mk" x="953.5" y="593.5"/>
<use href="#mk" x="962.5" y="593.5"/>
<use href="#mk" x="971.5" y="593.5"/>
<use href="#mk" x="980.6" y="593.5"/>
<use href="#mk" x="989.6" y="593.5"/>
<use href="#mk" x="998.6" y="593.5"/>
<use href="#mk" x="1007.7" y="593.5"/>
<use href="#mk" x="1016.7" y="593.5"/>
<use href="#mk" x="1025.7" y="593.5"/>
<use href="#mk" x="1034.8" y="593.5"/>
<use href="#mk" x="1043.8" y="593.5"/>
<use href="#mk" x="1052.8" y="593.5"/>
<use href="#mk" x="1061.8" y="593.5"/>
<use href="#mk" x="1070.9" y="593.5"/>
<use href="#mk" x="1079.9" y="593.5"/>
<use href="#mk" x="1088.9" y="593.5"/>
<use href="#mk" x="1098.0" y="593.5"/>
<use href="#mk" x="1107.0" y="593.5"/>
<use href="#mk" x="1116.0" y="593.5"/>
<use href="#mk" x="1125.0" y="593.5"/>
<use href="#mk" x="1134.1" y="593.5"/>
<use href="#mk" x="1143.1" y="593.5"/>
<use href="#mk" x="1152.1" y="593.5"/>
<use href="#mk" x="1161.2" y="593.5"/>
<use href="#mk" x="1170.2" y="593.5"/>
<use href="#mk" x="1179.2" y="593.5"/>
<use href="#mk" x="1188.3" y="697.8"/>
<use href="#mk" x="1197.3" y="708.5"/>
<use href="#mk" x="1206.3" y="708.5"/>
<use href="#mk" x="1215.3" y="708.5"/>
<use href="#mk" x="1224.4" y="708.5"/>
<use href="#mk" x="1233.4" y="708.5"/>
<use href="#mk" x="1242.4" y="708.5"/>
<use href="#mk" x="1251.5" y="690.3"/>
<circle cx="1260.5" cy="610.4" r="3.7" fill="none" stroke="#444" stroke-width="1"/>
<g stroke="#505050" stroke-width="0.9" fill="none"><path d="M806.5 584.4l5 5m-5 0l5 -5"/><path d="M806.0 607.6h6m-3 -3v6"/><path d="M815.0 694.1h6m-3 -3v6"/><path d="M1258.0 591.9l5 5m-5 0l5 -5"/><path d="M1257.5 615.1h6m-3 -3v6"/></g>
<rect x="947.1" y="613.0" width="171.6" height="96.1" fill="#fff" stroke="#222" stroke-width="1"/><text x="991.7" y="628.1" font-family="Liberation Sans, Arial, sans-serif" font-size="12.8" textLength="119.7" lengthAdjust="spacingAndGlyphs" fill="#222">Electrodes located at 1-1</text><path d="M952.0 623.7H988.8" stroke="#555" stroke-width="1" stroke-dasharray="1 2"/><text x="991.7" y="648.1" font-family="Liberation Sans, Arial, sans-serif" font-size="12.8" textLength="119.7" lengthAdjust="spacingAndGlyphs" fill="#222">Electrodes located at 2-2</text><path d="M968.4 641.7l4 4m-4 0l4 -4" stroke="#666" stroke-width="0.9"/><text x="991.7" y="666.9" font-family="Liberation Sans, Arial, sans-serif" font-size="12.8" textLength="119.7" lengthAdjust="spacingAndGlyphs" fill="#222">Electrodes located at 3-3</text><path d="M966.9 662.5h7m-3.5 -3.5v7" stroke="#666" stroke-width="0.9"/><text x="991.7" y="685.3" font-family="Liberation Sans, Arial, sans-serif" font-size="12.8" textLength="119.7" lengthAdjust="spacingAndGlyphs" fill="#222">Electrodes located at 4-4</text><circle cx="970.4" cy="680.9" r="3.4" fill="none" stroke="#555" stroke-width="1"/><text x="991.7" y="704.1" font-family="Liberation Sans, Arial, sans-serif" font-size="12.8" textLength="119.7" lengthAdjust="spacingAndGlyphs" fill="#222">Electrodes located at 5-5</text><path d="M968.2 699.7h4.4m-2.2 -2.2v4.4m-1.6 -3.8l3.2 3.2m-3.2 0l3.2 -3.2" stroke="#888" stroke-width="0.8"/>
<text x="1033" y="764.2" font-family="Liberation Sans, Arial, sans-serif" font-size="12.3" text-anchor="middle" textLength="152.5" lengthAdjust="spacingAndGlyphs" fill="#222">Voltage-drop profile along x-axis</text>
<rect x="809.0" y="774.4" width="451.5" height="138.9" fill="#fff" stroke="#111" stroke-width="1"/>
<path d="M809.0 913.3v-4.5M809.0 774.4v4.5M884.2 913.3v-4.5M884.2 774.4v4.5M959.5 913.3v-4.5M959.5 774.4v4.5M1034.8 913.3v-4.5M1034.8 774.4v4.5M1110.0 913.3v-4.5M1110.0 774.4v4.5M1185.2 913.3v-4.5M1185.2 774.4v4.5M1260.5 913.3v-4.5M1260.5 774.4v4.5M809.0 913.3h4.5M1260.5 913.3h-4.5M809.0 890.1h4.5M1260.5 890.1h-4.5M809.0 867.0h4.5M1260.5 867.0h-4.5M809.0 843.8h4.5M1260.5 843.8h-4.5M809.0 820.7h4.5M1260.5 820.7h-4.5M809.0 797.5h4.5M1260.5 797.5h-4.5" stroke="#222" stroke-width="0.9" fill="none"/>
<text x="809.0" y="928.2" font-family="Liberation Sans, Arial, sans-serif" font-size="12.4" text-anchor="middle" fill="#222" transform="translate(809.0 0) scale(0.82 1) translate(-809.0 0)">0</text>
<text x="884.2" y="928.2" font-family="Liberation Sans, Arial, sans-serif" font-size="12.4" text-anchor="middle" fill="#222" transform="translate(884.2 0) scale(0.82 1) translate(-884.2 0)">2</text>
<text x="959.5" y="928.2" font-family="Liberation Sans, Arial, sans-serif" font-size="12.4" text-anchor="middle" fill="#222" transform="translate(959.5 0) scale(0.82 1) translate(-959.5 0)">4</text>
<text x="1034.8" y="928.2" font-family="Liberation Sans, Arial, sans-serif" font-size="12.4" text-anchor="middle" fill="#222" transform="translate(1034.8 0) scale(0.82 1) translate(-1034.8 0)">6</text>
<text x="1110.0" y="928.2" font-family="Liberation Sans, Arial, sans-serif" font-size="12.4" text-anchor="middle" fill="#222" transform="translate(1110.0 0) scale(0.82 1) translate(-1110.0 0)">8</text>
<text x="1185.2" y="928.2" font-family="Liberation Sans, Arial, sans-serif" font-size="12.4" text-anchor="middle" fill="#222" transform="translate(1185.2 0) scale(0.82 1) translate(-1185.2 0)">10</text>
<text x="1260.5" y="928.2" font-family="Liberation Sans, Arial, sans-serif" font-size="12.4" text-anchor="middle" fill="#222" transform="translate(1260.5 0) scale(0.82 1) translate(-1260.5 0)">12</text>
<text x="806.5" y="917.5" font-family="Liberation Sans, Arial, sans-serif" font-size="12.4" text-anchor="end" fill="#222" transform="translate(806.5 0) scale(0.82 1) translate(-806.5 0)">0</text>
<text x="806.5" y="894.4" font-family="Liberation Sans, Arial, sans-serif" font-size="12.4" text-anchor="end" fill="#222" transform="translate(806.5 0) scale(0.82 1) translate(-806.5 0)">0.2</text>
<text x="806.5" y="871.2" font-family="Liberation Sans, Arial, sans-serif" font-size="12.4" text-anchor="end" fill="#222" transform="translate(806.5 0) scale(0.82 1) translate(-806.5 0)">0.4</text>
<text x="806.5" y="848.0" font-family="Liberation Sans, Arial, sans-serif" font-size="12.4" text-anchor="end" fill="#222" transform="translate(806.5 0) scale(0.82 1) translate(-806.5 0)">0.6</text>
<text x="806.5" y="824.9" font-family="Liberation Sans, Arial, sans-serif" font-size="12.4" text-anchor="end" fill="#222" transform="translate(806.5 0) scale(0.82 1) translate(-806.5 0)">0.8</text>
<text x="806.5" y="801.8" font-family="Liberation Sans, Arial, sans-serif" font-size="12.4" text-anchor="end" fill="#222" transform="translate(806.5 0) scale(0.82 1) translate(-806.5 0)">1</text>
<text x="1033" y="945.2" font-family="Liberation Sans, Arial, sans-serif" font-size="12.3" text-anchor="middle" textLength="131.5" lengthAdjust="spacingAndGlyphs" fill="#222">Distance along x-axis (mm)</text>
<text transform="translate(781.4 853.2) rotate(-90)" font-family="Liberation Sans, Arial, sans-serif" font-size="12.3" text-anchor="middle" textLength="51" lengthAdjust="spacingAndGlyphs" fill="#222">Voltage (V)</text>
<polyline points="809.0,797.5 818.0,797.5 827.1,797.5 836.1,797.5 845.1,797.5 854.1,797.5 863.2,797.5 872.2,797.5 881.2,797.5 890.3,799.3 899.3,803.3 908.3,806.8 917.4,810.3 926.4,813.8 935.4,817.2 944.5,820.7 953.5,824.2 962.5,827.6 971.5,831.1 980.6,834.6 989.6,838.1 998.6,841.5 1007.7,845.0 1016.7,848.5 1025.7,852.0 1034.8,855.4 1043.8,858.9 1052.8,862.4 1061.8,865.8 1070.9,869.3 1079.9,872.8 1088.9,876.3 1098.0,879.7 1107.0,883.2 1116.0,886.7 1125.0,890.1 1134.1,893.6 1143.1,897.1 1152.1,900.6 1161.2,904.0 1170.2,907.5 1179.2,911.0 1188.3,913.3 1197.3,913.3 1206.3,913.3 1215.3,913.3 1224.4,913.3 1233.4,913.3 1242.4,913.3 1251.5,913.3 1260.5,913.3" fill="none" stroke="#505050" stroke-width="1" stroke-dasharray="1.1 2.9"/>
<use href="#mk" x="809.0" y="797.5"/>
<use href="#mk" x="818.0" y="797.5"/>
<use href="#mk" x="827.1" y="797.5"/>
<use href="#mk" x="836.1" y="797.5"/>
<use href="#mk" x="845.1" y="797.5"/>
<use href="#mk" x="854.1" y="797.5"/>
<use href="#mk" x="863.2" y="797.5"/>
<use href="#mk" x="872.2" y="797.5"/>
<use href="#mk" x="881.2" y="797.5"/>
<use href="#mk" x="890.3" y="799.3"/>
<use href="#mk" x="899.3" y="803.3"/>
<use href="#mk" x="908.3" y="806.8"/>
<use href="#mk" x="917.4" y="810.3"/>
<use href="#mk" x="926.4" y="813.8"/>
<use href="#mk" x="935.4" y="817.2"/>
<use href="#mk" x="944.5" y="820.7"/>
<use href="#mk" x="953.5" y="824.2"/>
<use href="#mk" x="962.5" y="827.6"/>
<use href="#mk" x="971.5" y="831.1"/>
<use href="#mk" x="980.6" y="834.6"/>
<use href="#mk" x="989.6" y="838.1"/>
<use href="#mk" x="998.6" y="841.5"/>
<use href="#mk" x="1007.7" y="845.0"/>
<use href="#mk" x="1016.7" y="848.5"/>
<use href="#mk" x="1025.7" y="852.0"/>
<use href="#mk" x="1034.8" y="855.4"/>
<use href="#mk" x="1043.8" y="858.9"/>
<use href="#mk" x="1052.8" y="862.4"/>
<use href="#mk" x="1061.8" y="865.8"/>
<use href="#mk" x="1070.9" y="869.3"/>
<use href="#mk" x="1079.9" y="872.8"/>
<use href="#mk" x="1088.9" y="876.3"/>
<use href="#mk" x="1098.0" y="879.7"/>
<use href="#mk" x="1107.0" y="883.2"/>
<use href="#mk" x="1116.0" y="886.7"/>
<use href="#mk" x="1125.0" y="890.1"/>
<use href="#mk" x="1134.1" y="893.6"/>
<use href="#mk" x="1143.1" y="897.1"/>
<use href="#mk" x="1152.1" y="900.6"/>
<use href="#mk" x="1161.2" y="904.0"/>
<use href="#mk" x="1170.2" y="907.5"/>
<use href="#mk" x="1179.2" y="911.0"/>
<use href="#mk" x="1188.3" y="913.3"/>
<use href="#mk" x="1197.3" y="913.3"/>
<use href="#mk" x="1206.3" y="913.3"/>
<use href="#mk" x="1215.3" y="913.3"/>
<use href="#mk" x="1224.4" y="913.3"/>
<use href="#mk" x="1233.4" y="913.3"/>
<use href="#mk" x="1242.4" y="913.3"/>
<use href="#mk" x="1251.5" y="913.3"/>
<use href="#mk" x="1260.5" y="913.3"/>
<rect x="1091.8" y="774.4" width="168.7" height="93.9" fill="#fff" stroke="#222" stroke-width="1"/><text x="1135.0" y="790.2" font-family="Liberation Sans, Arial, sans-serif" font-size="12.8" textLength="120.2" lengthAdjust="spacingAndGlyphs" fill="#222">Electrodes located at 1-1</text><path d="M1097.0 785.8H1132.6" stroke="#555" stroke-width="1" stroke-dasharray="1 2"/><text x="1135.0" y="808.6" font-family="Liberation Sans, Arial, sans-serif" font-size="12.8" textLength="120.2" lengthAdjust="spacingAndGlyphs" fill="#222">Electrodes located at 2-2</text><path d="M1113.5 802.2l4 4m-4 0l4 -4" stroke="#666" stroke-width="0.9"/><text x="1135.0" y="826.2" font-family="Liberation Sans, Arial, sans-serif" font-size="12.8" textLength="120.2" lengthAdjust="spacingAndGlyphs" fill="#222">Electrodes located at 3-3</text><path d="M1112.0 821.8h7m-3.5 -3.5v7" stroke="#666" stroke-width="0.9"/><text x="1135.0" y="844.1" font-family="Liberation Sans, Arial, sans-serif" font-size="12.8" textLength="120.2" lengthAdjust="spacingAndGlyphs" fill="#222">Electrodes located at 4-4</text><circle cx="1115.5" cy="839.7" r="3.4" fill="none" stroke="#555" stroke-width="1"/><text x="1135.0" y="862.1" font-family="Liberation Sans, Arial, sans-serif" font-size="12.8" textLength="120.2" lengthAdjust="spacingAndGlyphs" fill="#222">Electrodes located at 5-5</text><path d="M1113.3 857.7h4.4m-2.2 -2.2v4.4m-1.6 -3.8l3.2 3.2m-3.2 0l3.2 -3.2" stroke="#888" stroke-width="0.8"/>
</svg>
</body></html>
